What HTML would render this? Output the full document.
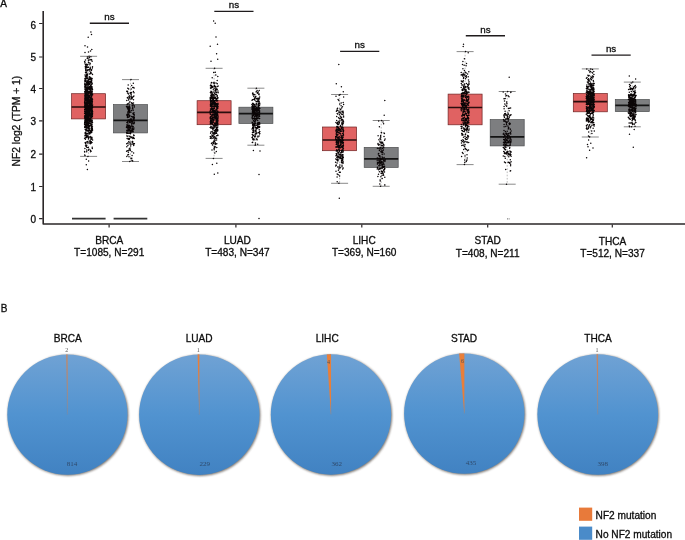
<!DOCTYPE html><html><head><meta charset="utf-8"><title>NF2 expression and mutation</title>
<style>html,body{margin:0;padding:0;background:#fff}svg{display:block}text{font-family:"Liberation Sans",sans-serif;fill:#0d0d0d;stroke:#0d0d0d;stroke-width:0.3px}.s{font-family:"Liberation Serif",serif;stroke:none}</style></head><body>
<svg width="685" height="540" viewBox="0 0 685 540">
<defs><linearGradient id="pg" x1="0" y1="0" x2="0" y2="1"><stop offset="0" stop-color="#70a2d4"/><stop offset="0.5" stop-color="#5193d0"/><stop offset="1" stop-color="#4182c2"/></linearGradient>
<linearGradient id="og" x1="0" y1="0" x2="0" y2="1"><stop offset="0" stop-color="#ec8440"/><stop offset="1" stop-color="#e0742f"/></linearGradient>
<filter id="sh" x="-10%" y="-10%" width="125%" height="125%"><feGaussianBlur stdDeviation="0.85"/></filter></defs>
<rect width="685" height="540" fill="#fff"/>
<text x="0.3" y="7.4" font-size="10">A</text>
<text x="0.8" y="311.8" font-size="10">B</text>
<text transform="translate(19.6,121.1) rotate(-90)" text-anchor="middle" font-size="10.3">NF2 log2 (TPM + 1)</text>
<g stroke="#333" stroke-width="1.8">
<line x1="72" y1="218.7" x2="105.6" y2="218.7"/><line x1="113.6" y1="218.7" x2="147.3" y2="218.7"/></g>
<line x1="88.6" y1="56.3" x2="88.6" y2="156.4" stroke="#777" stroke-width="0.5" stroke-dasharray="1.6 1.6"/>
<path d="M80.1 56.3h17M80.1 156.4h17" stroke="#585858" stroke-width="0.7" fill="none"/>
<rect x="71.6" y="93.7" width="34.0" height="25.2" fill="#e06262" stroke="#6e2323" stroke-width="0.7"/>
<line x1="71.6" y1="107.0" x2="105.6" y2="107.0" stroke="#2a0e0e" stroke-width="1.7"/>
<line x1="130.5" y1="79.6" x2="130.5" y2="161.5" stroke="#777" stroke-width="0.5" stroke-dasharray="1.6 1.6"/>
<path d="M122.0 79.6h17M122.0 161.5h17" stroke="#585858" stroke-width="0.7" fill="none"/>
<rect x="113.5" y="104.6" width="34.0" height="28.3" fill="#7d7e80" stroke="#4c4d4f" stroke-width="0.7"/>
<line x1="113.5" y1="120.3" x2="147.5" y2="120.3" stroke="#141414" stroke-width="1.7"/>
<line x1="214.1" y1="68.3" x2="214.1" y2="158.4" stroke="#777" stroke-width="0.5" stroke-dasharray="1.6 1.6"/>
<path d="M205.6 68.3h17M205.6 158.4h17" stroke="#585858" stroke-width="0.7" fill="none"/>
<rect x="197.1" y="100.7" width="34.0" height="24.0" fill="#e06262" stroke="#6e2323" stroke-width="0.7"/>
<line x1="197.1" y1="112.4" x2="231.1" y2="112.4" stroke="#2a0e0e" stroke-width="1.7"/>
<line x1="255.9" y1="88.2" x2="255.9" y2="145.2" stroke="#777" stroke-width="0.5" stroke-dasharray="1.6 1.6"/>
<path d="M247.4 88.2h17M247.4 145.2h17" stroke="#585858" stroke-width="0.7" fill="none"/>
<rect x="238.9" y="107.2" width="34.0" height="16.3" fill="#7d7e80" stroke="#4c4d4f" stroke-width="0.7"/>
<line x1="238.9" y1="113.7" x2="272.9" y2="113.7" stroke="#141414" stroke-width="1.7"/>
<line x1="339.6" y1="94.5" x2="339.6" y2="183.3" stroke="#777" stroke-width="0.5" stroke-dasharray="1.6 1.6"/>
<path d="M331.1 94.5h17M331.1 183.3h17" stroke="#585858" stroke-width="0.7" fill="none"/>
<rect x="322.6" y="127.0" width="34.0" height="23.7" fill="#e06262" stroke="#6e2323" stroke-width="0.7"/>
<line x1="322.6" y1="140.0" x2="356.6" y2="140.0" stroke="#2a0e0e" stroke-width="1.7"/>
<line x1="381.2" y1="120.5" x2="381.2" y2="186.3" stroke="#777" stroke-width="0.5" stroke-dasharray="1.6 1.6"/>
<path d="M372.7 120.5h17M372.7 186.3h17" stroke="#585858" stroke-width="0.7" fill="none"/>
<rect x="364.2" y="147.4" width="34.0" height="20.0" fill="#7d7e80" stroke="#4c4d4f" stroke-width="0.7"/>
<line x1="364.2" y1="158.9" x2="398.2" y2="158.9" stroke="#141414" stroke-width="1.7"/>
<line x1="465.1" y1="51.6" x2="465.1" y2="164.6" stroke="#777" stroke-width="0.5" stroke-dasharray="1.6 1.6"/>
<path d="M456.6 51.6h17M456.6 164.6h17" stroke="#585858" stroke-width="0.7" fill="none"/>
<rect x="448.1" y="94.1" width="34.0" height="30.7" fill="#e06262" stroke="#6e2323" stroke-width="0.7"/>
<line x1="448.1" y1="107.5" x2="482.1" y2="107.5" stroke="#2a0e0e" stroke-width="1.7"/>
<line x1="507.2" y1="91.5" x2="507.2" y2="184.2" stroke="#777" stroke-width="0.5" stroke-dasharray="1.6 1.6"/>
<path d="M498.7 91.5h17M498.7 184.2h17" stroke="#585858" stroke-width="0.7" fill="none"/>
<rect x="490.2" y="119.6" width="34.0" height="26.3" fill="#7d7e80" stroke="#4c4d4f" stroke-width="0.7"/>
<line x1="490.2" y1="136.8" x2="524.2" y2="136.8" stroke="#141414" stroke-width="1.7"/>
<line x1="590.3" y1="68.9" x2="590.3" y2="137.0" stroke="#777" stroke-width="0.5" stroke-dasharray="1.6 1.6"/>
<path d="M581.8 68.9h17M581.8 137.0h17" stroke="#585858" stroke-width="0.7" fill="none"/>
<rect x="573.3" y="93.5" width="34.0" height="18.3" fill="#e06262" stroke="#6e2323" stroke-width="0.7"/>
<line x1="573.3" y1="101.6" x2="607.3" y2="101.6" stroke="#2a0e0e" stroke-width="1.7"/>
<line x1="632.3" y1="82.1" x2="632.3" y2="126.8" stroke="#777" stroke-width="0.5" stroke-dasharray="1.6 1.6"/>
<path d="M623.8 82.1h17M623.8 126.8h17" stroke="#585858" stroke-width="0.7" fill="none"/>
<rect x="615.3" y="99.5" width="34.0" height="12.1" fill="#7d7e80" stroke="#4c4d4f" stroke-width="0.7"/>
<line x1="615.3" y1="105.4" x2="649.3" y2="105.4" stroke="#141414" stroke-width="1.7"/>
<path d="M85.8 115.0h0M85.2 99.5h0M87.5 105.3h0M88.7 137.1h0M88.1 142.0h0M85.3 135.0h0M91.2 110.3h0M86.4 128.2h0M92.2 100.7h0M87.8 103.2h0M85.0 62.3h0M86.9 85.2h0M85.5 126.3h0M91.1 115.7h0M89.3 123.3h0M87.6 100.1h0M85.1 104.7h0M86.2 136.8h0M88.0 97.9h0M89.3 115.4h0M87.0 109.0h0M90.2 90.7h0M89.2 119.2h0M91.6 105.8h0M86.9 95.0h0M85.5 60.1h0M90.7 110.6h0M88.5 125.6h0M89.9 141.5h0M89.2 92.8h0M87.1 83.4h0M89.4 97.0h0M88.2 103.1h0M92.2 87.0h0M89.9 108.1h0M90.2 136.6h0M92.5 99.7h0M86.9 88.5h0M89.9 112.0h0M88.3 147.6h0M85.5 124.3h0M90.7 136.9h0M86.6 127.6h0M91.6 111.8h0M88.2 133.3h0M91.7 104.6h0M91.5 88.7h0M87.9 117.3h0M91.7 113.3h0M85.8 69.4h0M86.5 123.7h0M88.5 119.9h0M86.7 102.6h0M87.6 110.5h0M92.2 103.8h0M88.7 97.3h0M90.0 101.2h0M91.8 137.9h0M91.6 91.7h0M87.7 90.4h0M85.4 111.4h0M85.1 100.3h0M86.3 135.4h0M87.3 124.8h0M84.6 138.2h0M85.4 125.7h0M84.8 113.1h0M89.5 83.6h0M86.6 125.9h0M87.5 113.8h0M91.4 128.3h0M88.5 108.5h0M85.4 132.6h0M86.7 114.1h0M85.9 87.9h0M92.2 147.3h0M85.8 105.6h0M84.8 104.9h0M92.4 105.6h0M90.2 84.7h0M87.5 118.3h0M90.8 124.4h0M90.8 105.4h0M86.4 114.7h0M92.5 89.4h0M91.0 85.8h0M90.5 88.8h0M88.7 120.3h0M84.8 113.4h0M86.8 145.3h0M90.1 118.4h0M88.2 69.7h0M92.5 74.4h0M87.5 70.1h0M86.4 120.7h0M86.2 122.2h0M91.8 100.9h0M88.4 86.9h0M91.0 99.4h0M89.9 132.7h0M90.9 79.1h0M88.4 93.7h0M90.9 123.5h0M91.0 114.5h0M87.8 64.4h0M92.2 111.3h0M86.0 95.3h0M85.8 127.8h0M91.1 79.8h0M91.2 126.1h0M89.9 60.0h0M89.0 113.7h0M84.7 127.5h0M89.8 64.7h0M92.1 105.7h0M91.6 109.9h0M86.3 88.2h0M86.9 118.8h0M89.3 119.4h0M88.0 118.4h0M91.9 127.5h0M88.3 113.5h0M91.8 102.9h0M91.9 110.5h0M88.9 106.9h0M84.7 105.9h0M86.1 109.6h0M86.0 90.3h0M90.4 108.1h0M87.2 104.3h0M89.0 106.1h0M85.4 91.4h0M86.6 104.1h0M90.8 117.4h0M89.1 106.6h0M91.9 93.1h0M89.5 109.5h0M88.7 106.7h0M88.2 97.2h0M88.4 105.4h0M90.2 73.5h0M92.1 83.3h0M89.1 118.3h0M91.3 73.1h0M85.6 126.9h0M85.2 109.5h0M85.2 119.4h0M90.9 98.5h0M85.8 80.8h0M89.9 95.8h0M91.7 126.4h0M86.4 66.1h0M87.8 70.8h0M92.5 107.6h0M85.9 87.6h0M88.7 110.0h0M86.2 114.2h0M90.4 115.2h0M89.0 149.2h0M84.7 109.6h0M89.6 114.6h0M85.1 106.4h0M90.9 56.7h0M85.4 64.4h0M84.9 118.0h0M86.8 91.8h0M88.0 127.6h0M91.2 78.8h0M85.8 118.4h0M89.2 77.6h0M85.3 96.7h0M90.1 137.2h0M85.2 110.3h0M89.7 74.1h0M85.3 90.1h0M85.1 85.4h0M88.2 84.8h0M89.0 114.2h0M86.7 76.4h0M88.8 127.6h0M85.5 119.6h0M85.0 124.8h0M87.1 121.9h0M90.7 115.9h0M88.6 116.7h0M87.4 123.6h0M86.6 149.9h0M90.5 151.7h0M86.1 104.5h0M92.1 108.1h0M91.2 130.0h0M88.6 110.0h0M87.7 87.4h0M90.1 106.7h0M87.3 58.6h0M90.3 87.6h0M87.8 100.3h0M85.0 113.8h0M85.2 127.6h0M86.6 94.3h0M85.3 124.7h0M91.6 86.8h0M86.9 98.4h0M86.9 119.3h0M85.9 108.8h0M86.7 109.4h0M92.4 68.1h0M86.6 104.7h0M87.1 66.8h0M84.6 113.4h0M88.4 112.2h0M86.2 106.9h0M84.6 106.8h0M85.3 118.1h0M84.9 111.4h0M87.0 147.6h0M89.3 119.9h0M90.6 105.6h0M90.3 99.1h0M87.7 83.0h0M92.5 114.9h0M90.4 125.8h0M85.0 99.9h0M91.7 87.4h0M90.5 100.7h0M85.7 89.3h0M88.6 105.8h0M91.0 87.4h0M89.3 88.1h0M90.1 81.4h0M86.4 97.1h0M85.7 144.1h0M85.4 113.2h0M89.1 87.3h0M89.6 100.7h0M88.5 97.8h0M90.6 90.4h0M88.9 106.9h0M85.1 99.0h0M86.6 94.6h0M86.7 134.2h0M86.2 95.0h0M92.4 94.4h0M87.7 107.3h0M90.1 107.9h0M89.5 92.6h0M85.2 99.9h0M86.6 126.0h0M87.0 94.1h0M84.7 103.7h0M86.8 136.6h0M90.1 98.3h0M86.9 98.1h0M88.3 106.2h0M85.5 108.5h0M86.2 81.3h0M92.1 61.3h0M88.3 150.3h0M92.3 88.7h0M86.7 109.2h0M92.2 121.3h0M89.3 121.3h0M88.8 126.5h0M85.7 70.8h0M88.7 88.7h0M90.2 82.1h0M91.8 120.0h0M84.8 107.6h0M88.2 107.4h0M85.7 116.1h0M87.1 114.0h0M84.6 86.9h0M91.3 93.7h0M92.0 128.5h0M91.8 96.0h0M87.6 116.7h0M92.6 111.7h0M87.5 102.6h0M86.8 110.1h0M85.4 139.2h0M86.9 87.4h0M86.6 74.7h0M88.7 118.0h0M87.6 122.7h0M91.7 69.8h0M89.6 89.3h0M92.1 78.5h0M90.4 104.6h0M90.5 138.9h0M90.6 109.1h0M86.9 99.8h0M92.0 139.0h0M88.4 127.8h0M87.0 114.0h0M92.4 94.4h0M89.8 118.3h0M89.1 116.1h0M85.9 111.6h0M86.3 124.8h0M88.6 79.6h0M91.9 120.7h0M85.7 109.2h0M85.3 122.5h0M85.3 114.1h0M86.7 119.5h0M91.7 103.6h0M87.9 93.7h0M88.8 110.8h0M87.3 112.4h0M86.8 136.3h0M85.6 66.0h0M89.6 106.8h0M86.3 84.8h0M86.6 117.7h0M88.2 111.4h0M91.4 70.4h0M84.8 83.7h0M90.3 143.7h0M88.4 81.0h0M84.6 102.7h0M92.0 111.8h0M91.4 88.2h0M86.6 64.2h0M85.8 129.7h0M90.1 105.9h0M90.4 73.5h0M90.7 99.7h0M89.0 108.9h0M90.9 141.4h0M92.0 119.9h0M87.0 99.8h0M86.6 127.8h0M90.2 100.2h0M85.2 129.4h0M89.3 105.8h0M86.4 111.9h0M84.7 102.0h0M88.3 116.1h0M89.8 69.0h0M88.4 82.5h0M86.6 119.8h0M90.2 68.5h0M84.8 115.8h0M90.0 107.1h0M86.7 110.5h0M92.0 98.6h0M84.9 120.3h0M88.0 114.3h0M86.2 97.7h0M90.5 90.5h0M86.2 106.8h0M87.1 65.2h0M86.4 88.7h0M90.7 120.6h0M92.2 116.4h0M86.1 107.2h0M87.9 120.5h0M92.2 98.7h0M87.7 126.1h0M92.4 121.1h0M85.0 126.5h0M87.7 136.7h0M91.7 80.7h0M92.6 94.8h0M87.2 75.5h0M92.1 123.0h0M84.9 94.0h0M87.6 98.7h0M87.3 112.6h0M84.6 124.2h0M87.4 117.2h0M85.6 70.0h0M86.3 67.3h0M91.2 113.4h0M88.1 88.5h0M88.4 139.0h0M92.0 112.6h0M87.5 122.5h0M84.8 80.9h0M91.1 110.9h0M84.9 92.6h0M85.1 142.8h0M86.7 77.5h0M91.8 93.9h0M86.8 114.2h0M89.5 69.4h0M90.3 118.2h0M86.8 115.3h0M91.9 93.3h0M92.1 100.4h0M86.5 146.8h0M92.3 108.1h0M87.7 70.4h0M88.0 118.8h0M92.0 107.3h0M91.0 123.2h0M91.2 94.4h0M89.5 92.2h0M87.2 114.8h0M90.9 113.1h0M86.2 133.5h0M86.6 93.5h0M84.9 135.8h0M87.2 104.4h0M91.7 60.0h0M85.3 118.0h0M88.6 131.2h0M88.2 96.2h0M87.9 119.8h0M90.0 101.1h0M91.4 93.8h0M85.6 98.7h0M87.0 86.9h0M87.6 103.7h0M86.2 94.5h0M86.6 119.0h0M91.7 125.5h0M87.2 103.2h0M92.5 111.6h0M86.5 106.6h0M89.8 89.6h0M88.4 130.5h0M91.3 88.7h0M84.9 78.4h0M85.6 116.5h0M92.4 122.7h0M92.0 102.9h0M91.5 112.7h0M86.7 109.2h0M92.2 91.9h0M89.4 130.1h0M86.3 101.1h0M85.7 112.8h0M86.6 121.7h0M89.8 102.1h0M84.7 121.8h0M90.0 114.8h0M87.1 123.0h0M91.0 121.8h0M85.1 104.7h0M87.8 130.6h0M89.7 104.6h0M85.9 131.9h0M87.9 97.0h0M87.1 117.0h0M87.1 70.6h0M87.5 103.8h0M91.5 110.7h0M86.2 113.0h0M86.2 95.1h0M88.0 80.2h0M87.8 88.6h0M88.3 82.6h0M84.7 124.7h0M89.7 104.5h0M85.3 79.1h0M87.6 101.0h0M85.8 106.8h0M88.8 117.0h0M85.5 76.6h0M91.0 107.4h0M86.2 66.3h0M92.1 127.9h0M88.5 62.6h0M92.0 138.1h0M91.8 111.9h0M91.2 101.1h0M90.9 124.9h0M87.8 120.6h0M91.2 86.4h0M86.3 123.2h0M88.7 111.4h0M85.6 112.1h0M90.4 119.1h0M84.9 80.8h0M90.7 104.0h0M91.3 141.8h0M89.4 128.8h0M89.6 104.6h0M88.0 115.8h0M88.0 103.0h0M88.2 99.0h0M84.8 109.7h0M88.5 101.1h0M90.7 119.8h0M88.3 91.7h0M88.4 123.4h0M85.6 129.9h0M85.3 110.0h0M88.7 109.5h0M89.7 141.1h0M90.5 133.1h0M88.7 91.9h0M88.6 137.9h0M92.2 112.4h0M91.5 127.0h0M91.1 94.8h0M92.5 122.4h0M92.3 107.4h0M85.9 78.1h0M92.0 91.1h0M87.4 135.7h0M85.9 93.3h0M86.8 80.9h0M85.7 89.0h0M92.0 106.9h0M86.7 121.4h0M87.2 106.7h0M86.1 142.2h0M92.1 124.8h0M91.8 97.9h0M90.9 124.2h0M88.8 129.1h0M87.5 100.2h0M89.0 83.7h0M91.7 103.1h0M92.5 130.2h0M87.8 100.6h0M86.7 90.4h0M87.5 103.2h0M88.1 92.8h0M90.5 123.6h0M91.2 139.2h0M89.7 118.7h0M89.3 57.5h0M87.1 98.8h0M85.8 143.2h0M88.1 101.3h0M91.8 106.4h0M86.4 127.4h0M84.8 99.3h0M85.5 113.5h0M86.4 113.4h0M89.3 102.9h0M89.6 121.7h0M85.7 108.1h0M86.5 74.5h0M85.4 125.8h0M91.6 100.1h0M87.8 91.5h0M84.7 118.1h0M89.1 99.8h0M89.8 113.7h0M92.1 109.4h0M86.6 94.8h0M85.0 80.0h0M87.8 105.5h0M85.1 119.6h0M84.7 91.8h0M92.1 104.5h0M86.2 126.4h0M88.7 101.7h0M91.1 100.0h0M87.1 123.8h0M85.0 116.2h0M90.9 81.8h0M84.7 95.9h0M90.6 86.6h0M90.5 108.5h0M86.4 109.1h0M86.5 130.1h0M87.3 141.6h0M90.2 93.7h0M90.3 86.5h0M89.0 118.0h0M90.9 109.8h0M86.7 105.9h0M92.3 99.9h0M91.6 120.9h0M86.7 151.8h0M90.6 119.7h0M90.6 72.7h0M91.6 114.8h0M86.5 114.7h0M89.6 79.4h0M89.9 97.2h0M88.4 60.8h0M90.2 87.0h0M88.1 85.3h0M89.2 95.3h0M86.3 115.8h0M85.2 100.9h0M85.8 78.9h0M85.5 145.7h0M87.4 76.0h0M84.8 126.5h0M90.1 140.8h0M90.2 100.4h0M85.1 94.6h0M87.5 102.6h0M91.2 88.9h0M85.1 81.6h0M91.9 84.3h0M85.5 72.8h0M85.5 121.6h0M91.4 143.0h0M89.7 89.3h0M89.7 88.3h0M85.4 116.8h0M90.7 131.0h0M87.2 121.7h0M84.8 110.3h0M86.9 118.5h0M87.5 95.8h0M92.3 115.1h0M91.4 106.8h0M84.8 101.2h0M88.1 110.8h0M87.4 92.2h0M88.9 96.5h0M91.5 120.9h0M91.2 131.9h0M84.6 124.1h0M90.7 121.9h0M84.6 61.4h0M88.5 107.4h0M86.1 90.5h0M87.4 107.2h0M86.7 87.7h0M86.9 72.9h0M90.2 121.0h0M85.5 107.1h0M85.2 100.2h0M90.2 91.1h0M89.6 91.2h0M87.8 113.4h0M91.7 111.6h0M91.7 132.5h0M86.2 146.4h0M91.8 118.1h0M87.6 106.9h0M86.5 82.5h0M88.9 108.7h0M90.6 93.4h0M87.4 99.7h0M85.8 114.8h0M89.9 86.7h0M86.0 94.2h0M90.8 109.7h0M85.6 103.1h0M91.7 108.6h0M86.1 119.6h0M90.2 116.1h0M85.8 86.6h0M86.6 125.3h0M88.8 114.8h0M87.2 124.9h0M92.4 122.7h0M85.4 95.1h0M85.4 67.9h0M92.5 112.1h0M90.5 90.6h0M86.2 109.8h0M85.5 100.1h0M87.7 121.6h0M87.8 143.1h0M90.1 90.9h0M89.7 107.0h0M85.7 108.6h0M87.8 101.9h0M91.9 94.3h0M89.2 110.0h0M88.0 93.8h0M90.4 120.2h0M90.8 82.9h0M91.4 96.7h0M89.7 97.9h0M87.1 109.0h0M85.4 100.7h0M90.9 110.5h0M89.6 96.0h0M88.0 118.9h0M89.6 108.9h0M90.0 111.0h0M86.1 75.7h0M90.8 99.3h0M88.5 111.9h0M84.9 63.1h0M85.9 104.9h0M92.1 91.6h0M85.4 106.1h0M88.9 103.4h0M88.7 95.7h0M91.2 100.1h0M87.9 106.0h0M86.3 72.0h0M87.7 97.6h0M85.6 92.9h0M87.4 57.1h0M86.8 137.4h0M84.7 111.4h0M88.0 110.6h0M87.4 96.9h0M86.4 118.0h0M92.1 94.3h0M86.4 105.7h0M87.7 90.1h0M85.6 121.2h0M91.1 91.9h0M88.4 100.3h0M86.4 104.0h0M87.4 67.4h0M91.1 100.1h0M88.3 89.0h0M89.0 116.5h0M91.3 128.0h0M91.4 113.5h0M87.6 117.9h0M88.0 118.7h0M84.6 123.0h0M86.8 95.5h0M87.0 119.2h0M88.0 107.9h0M89.9 100.2h0M92.0 113.1h0M85.1 85.6h0M91.8 88.0h0M85.7 91.4h0M89.7 87.7h0M84.7 152.0h0M89.8 71.0h0M85.4 118.9h0M86.5 126.4h0M87.4 92.0h0M91.8 125.5h0M85.9 90.9h0M89.5 81.6h0M89.9 91.6h0M90.9 81.2h0M86.2 87.1h0M88.8 97.2h0M88.1 94.2h0M89.0 82.6h0M86.5 118.1h0M88.5 126.7h0M88.3 137.0h0M88.5 126.2h0M88.9 107.1h0M84.7 84.8h0M88.3 86.9h0M89.9 104.0h0M87.6 86.9h0M92.3 110.5h0M89.7 134.1h0M84.8 100.2h0M90.1 101.6h0M87.2 75.5h0M88.7 59.1h0M91.8 107.7h0M90.3 143.1h0M87.3 100.8h0M87.5 84.9h0M88.8 108.1h0M86.3 92.4h0M88.0 109.8h0M91.2 104.4h0M91.2 116.5h0M88.6 111.2h0M88.7 117.7h0M89.8 62.9h0M87.2 90.8h0M87.0 115.3h0M89.7 102.8h0M84.9 91.4h0M91.7 95.4h0M85.0 104.8h0M84.6 116.1h0M92.0 122.7h0M89.9 101.7h0M91.9 91.1h0M89.5 101.5h0M90.2 100.7h0M90.0 102.3h0M89.9 121.2h0M90.7 108.8h0M86.1 130.6h0M90.8 142.2h0M89.8 78.4h0M91.2 112.8h0M89.1 91.2h0M87.0 118.4h0M87.1 110.4h0M89.7 110.0h0M85.0 75.0h0M84.9 103.7h0M91.1 128.7h0M91.9 103.3h0M84.7 109.3h0M89.3 112.0h0M92.4 74.3h0M87.9 108.1h0M89.8 130.5h0M85.8 121.2h0M84.6 151.6h0M85.6 97.7h0M85.3 66.5h0M85.6 84.1h0M90.4 150.2h0M90.5 119.3h0M85.0 122.9h0M90.3 92.1h0M90.4 85.5h0M89.6 132.8h0M88.3 96.2h0M86.6 75.3h0M90.3 67.3h0M84.7 154.9h0M91.1 99.5h0M87.1 133.4h0M85.9 95.0h0M88.5 85.0h0M87.5 136.8h0M88.1 103.3h0M85.8 98.1h0M87.5 90.4h0M89.6 99.8h0M87.7 110.6h0M92.2 91.3h0M89.1 91.4h0M85.1 116.6h0M90.2 63.4h0M87.3 88.1h0M92.4 101.8h0M89.4 87.7h0M88.0 115.7h0M87.6 82.0h0M89.4 97.6h0M91.1 81.0h0M84.6 117.0h0M88.0 118.1h0M91.1 102.8h0M84.9 82.0h0M91.1 87.6h0M89.2 84.3h0M91.4 117.6h0M90.1 89.7h0M87.4 78.5h0M89.0 132.7h0M86.2 90.4h0M92.1 93.7h0M89.5 119.8h0M88.3 98.0h0M86.6 121.6h0M90.9 93.6h0M85.3 108.7h0M90.8 89.7h0M89.2 119.9h0M91.7 80.9h0M88.4 105.9h0M86.1 102.6h0M86.0 122.5h0M87.5 96.7h0M87.8 103.9h0M85.8 106.2h0M92.6 140.1h0M85.4 112.6h0M90.9 100.4h0M89.4 125.2h0M88.8 113.9h0M84.9 148.6h0M88.5 84.4h0M86.7 103.7h0M88.0 91.8h0M90.7 72.3h0M92.3 88.8h0M84.9 118.7h0M86.0 121.9h0M85.0 132.9h0M91.6 104.2h0M92.2 108.8h0M85.1 79.1h0M87.8 102.2h0M92.3 128.6h0M89.1 118.5h0M92.3 100.0h0M87.7 98.5h0M85.9 109.2h0M92.5 66.7h0M84.9 120.6h0M87.4 118.6h0M91.8 80.1h0M85.0 87.2h0M90.3 91.2h0M92.5 99.7h0M85.8 137.6h0M92.1 93.4h0M87.0 98.1h0M90.7 102.5h0M87.2 130.1h0M85.6 118.5h0M85.9 107.8h0M85.7 119.6h0M84.7 98.0h0M86.2 95.7h0M92.0 142.5h0M92.1 120.7h0M91.7 84.4h0M88.2 126.7h0M92.0 131.1h0M89.6 86.8h0M87.3 109.1h0M88.4 88.4h0M85.7 100.7h0M85.1 120.6h0M89.0 96.0h0M91.6 126.2h0M87.9 118.0h0M86.8 125.3h0M87.3 87.0h0M88.5 124.3h0M91.8 115.3h0M92.4 129.2h0M91.8 137.3h0M86.3 98.5h0M86.9 108.0h0M86.2 118.4h0M92.5 113.0h0M85.4 76.6h0M91.8 116.7h0M90.4 137.2h0M92.4 116.5h0M91.1 151.3h0M85.7 114.1h0M88.8 87.6h0M88.1 123.0h0M86.3 78.8h0M85.7 103.5h0M90.8 123.4h0M86.2 96.1h0M85.3 133.5h0M88.6 101.7h0M86.2 117.5h0M90.3 101.5h0M89.3 89.3h0M85.1 121.8h0M87.9 94.8h0M85.0 95.5h0M87.3 89.4h0M91.5 86.8h0M84.7 107.3h0M88.4 79.0h0M86.7 83.8h0M91.3 123.0h0M85.9 112.9h0M89.4 112.7h0M88.2 106.0h0M85.6 106.2h0M91.1 95.9h0M87.2 84.5h0M87.7 96.1h0M85.1 93.6h0M92.2 83.7h0M88.7 107.2h0M88.9 105.5h0M92.3 148.5h0M86.1 120.5h0M86.6 130.4h0M84.8 88.9h0M90.2 131.2h0M84.7 122.3h0M89.2 102.1h0M90.2 105.9h0M91.6 130.4h0M85.0 95.8h0M88.5 128.2h0M86.8 107.0h0M87.8 128.3h0M89.3 126.9h0M85.8 85.0h0M90.6 103.5h0M91.2 124.6h0M87.7 74.3h0M91.3 110.5h0M87.8 105.8h0M90.8 73.5h0M86.5 114.2h0M88.1 114.4h0M91.0 59.4h0M91.1 78.6h0M85.0 86.3h0M92.3 106.2h0M86.6 74.9h0M89.7 110.4h0M88.8 113.0h0M88.1 135.1h0M84.8 106.8h0M92.4 126.7h0M92.1 91.9h0M91.1 100.4h0M91.7 82.4h0M89.7 143.0h0M90.0 118.0h0M88.9 117.6h0M89.6 76.8h0M88.8 118.9h0M92.2 109.9h0M87.0 116.8h0M85.6 99.6h0M92.2 102.4h0M86.7 106.3h0M88.9 108.5h0M85.6 125.9h0M86.9 127.4h0M86.9 111.1h0M85.3 119.3h0M91.3 104.8h0M89.2 101.6h0M86.2 99.5h0M88.3 96.2h0M89.5 104.7h0M87.1 108.3h0M86.4 119.3h0M87.7 106.4h0M84.7 102.8h0M91.5 113.6h0M89.1 119.6h0M86.9 107.4h0M90.8 116.4h0M85.1 125.1h0M88.1 83.9h0M87.7 136.3h0M90.5 109.6h0M86.4 129.7h0M90.5 68.9h0M87.3 125.4h0M90.0 113.6h0M91.4 101.3h0M88.7 88.6h0M90.5 94.4h0M88.4 93.1h0M90.3 91.3h0M85.6 78.3h0M84.6 83.9h0M89.3 92.7h0M92.3 107.1h0M87.9 103.5h0M91.6 91.4h0M87.6 101.7h0M88.3 109.1h0M86.9 95.4h0M89.0 111.8h0M87.2 112.1h0M91.4 91.2h0M88.2 107.0h0M87.0 123.1h0M89.2 126.2h0M85.3 103.0h0M87.2 77.5h0M91.3 86.6h0M86.2 69.0h0M91.9 110.2h0M85.0 155.6h0M88.6 103.8h0M90.8 77.5h0M92.6 105.1h0M88.7 106.2h0M87.7 97.6h0M89.4 113.3h0M92.2 113.6h0M88.8 98.1h0M87.6 130.9h0M89.1 111.3h0M91.6 103.4h0M88.5 67.2h0M89.6 109.6h0M88.8 114.0h0M86.0 89.0h0M92.4 115.3h0M88.7 88.2h0M91.8 129.5h0M91.2 97.3h0M88.0 82.0h0M86.9 125.2h0M88.6 106.4h0M86.1 122.8h0M89.4 100.6h0M92.5 113.5h0M84.9 100.2h0M90.9 110.9h0M90.1 115.8h0M91.3 115.9h0M89.9 102.8h0M88.6 122.2h0M86.7 104.4h0M88.9 99.7h0M89.1 56.3h0M87.9 156.4h0M90.9 31.9h0M91.5 34.5h0M88.2 37.2h0M85.0 45.8h0M87.5 47.0h0M91.8 49.5h0M90.5 51.0h0M85.0 52.5h0M88.5 52.0h0M86.3 159.3h0M88.6 161.0h0M86.3 164.7h0M87.4 169.5h0M129.8 116.0h0M127.8 142.9h0M127.4 103.9h0M127.9 145.4h0M133.1 119.0h0M133.0 113.7h0M126.6 151.3h0M129.1 103.0h0M129.3 107.1h0M128.6 138.5h0M133.7 145.5h0M129.3 115.6h0M129.6 122.6h0M133.6 152.9h0M134.2 115.5h0M131.5 123.1h0M126.9 132.9h0M133.3 83.2h0M133.7 129.2h0M128.9 99.1h0M134.2 114.4h0M134.1 120.5h0M129.6 133.3h0M128.3 106.9h0M133.5 129.5h0M132.8 121.0h0M127.9 133.3h0M128.0 127.0h0M131.0 130.5h0M130.8 143.7h0M129.7 125.6h0M127.5 150.7h0M129.3 98.1h0M128.0 133.2h0M128.4 130.9h0M131.8 158.2h0M127.7 127.8h0M127.2 107.8h0M133.2 131.7h0M130.0 142.3h0M132.9 97.0h0M129.3 139.4h0M129.5 106.6h0M134.1 135.6h0M128.3 120.0h0M127.5 122.5h0M128.6 107.8h0M131.2 89.0h0M128.5 126.5h0M128.2 114.0h0M127.5 92.9h0M130.8 119.6h0M132.7 131.7h0M131.8 125.7h0M129.0 116.4h0M127.2 125.4h0M133.3 137.9h0M131.8 128.9h0M131.0 144.4h0M130.5 126.8h0M127.0 130.2h0M128.3 129.4h0M132.2 142.5h0M129.7 131.0h0M132.7 87.5h0M133.4 91.5h0M128.7 141.8h0M131.9 160.2h0M129.3 110.6h0M131.8 124.3h0M128.5 108.3h0M129.3 95.9h0M128.0 112.8h0M133.8 143.6h0M132.2 105.8h0M126.8 156.5h0M128.1 139.1h0M129.5 129.8h0M129.0 156.8h0M127.9 112.2h0M131.1 96.7h0M128.5 107.1h0M132.0 123.3h0M126.5 127.4h0M132.7 97.2h0M126.8 130.8h0M131.4 95.1h0M128.5 154.6h0M132.8 144.1h0M133.8 135.5h0M127.2 104.7h0M129.6 108.6h0M133.1 104.8h0M127.2 131.1h0M133.9 123.8h0M132.4 108.8h0M131.5 97.7h0M126.9 122.5h0M129.9 108.3h0M133.9 119.6h0M132.6 142.3h0M132.1 155.6h0M128.6 100.0h0M134.3 117.6h0M130.9 112.2h0M127.0 132.9h0M129.8 127.0h0M129.0 136.1h0M132.2 141.4h0M128.4 110.2h0M130.6 133.4h0M134.0 122.8h0M128.9 127.3h0M127.6 91.2h0M129.2 116.7h0M130.9 99.1h0M127.9 103.8h0M131.3 110.4h0M132.6 122.1h0M127.4 97.6h0M129.4 130.6h0M127.0 135.7h0M128.1 131.1h0M130.1 108.1h0M129.1 143.9h0M129.4 121.7h0M127.1 138.6h0M127.2 104.6h0M134.3 107.0h0M127.4 116.6h0M130.0 120.8h0M130.8 136.9h0M131.7 85.6h0M134.0 112.8h0M128.5 111.3h0M127.6 133.1h0M132.7 160.9h0M128.9 96.7h0M131.6 137.2h0M133.9 96.0h0M132.8 138.6h0M132.4 97.6h0M128.0 128.6h0M129.1 98.1h0M130.9 126.5h0M133.2 126.4h0M126.8 133.5h0M131.5 116.5h0M132.1 98.7h0M134.1 88.1h0M130.5 120.6h0M128.9 139.5h0M127.1 115.6h0M127.8 109.0h0M134.3 122.9h0M126.8 146.8h0M128.0 123.1h0M126.5 106.6h0M133.3 96.6h0M129.9 101.7h0M131.8 130.9h0M129.9 119.5h0M130.0 128.0h0M133.1 110.4h0M127.8 88.3h0M130.0 130.2h0M129.3 116.7h0M127.2 136.5h0M130.2 128.7h0M133.4 87.5h0M133.0 113.3h0M131.9 151.8h0M128.9 114.0h0M134.1 116.2h0M131.7 121.2h0M129.2 130.0h0M126.7 91.2h0M131.9 137.0h0M127.2 122.7h0M129.5 110.8h0M129.8 115.6h0M131.0 118.6h0M127.4 125.1h0M133.6 137.6h0M127.4 117.5h0M128.5 94.1h0M130.7 146.1h0M130.4 132.8h0M128.3 117.2h0M127.4 116.1h0M131.2 119.5h0M129.8 148.2h0M130.0 149.3h0M130.9 94.0h0M132.6 107.2h0M134.4 143.7h0M127.3 106.7h0M129.6 97.7h0M134.2 138.4h0M132.7 116.7h0M132.7 141.4h0M128.4 152.3h0M126.6 126.3h0M128.2 114.8h0M132.2 130.0h0M133.6 123.7h0M133.5 113.2h0M133.8 116.7h0M127.8 93.1h0M129.2 105.0h0M131.9 103.6h0M127.5 98.1h0M132.4 126.2h0M126.8 106.7h0M127.3 114.3h0M132.9 117.5h0M133.9 143.9h0M128.5 109.9h0M130.1 136.7h0M131.2 96.8h0M126.7 143.8h0M132.9 144.2h0M130.9 137.3h0M132.0 130.6h0M127.7 125.9h0M130.8 92.5h0M133.0 108.9h0M127.7 127.8h0M133.5 120.2h0M126.8 100.5h0M133.0 137.5h0M129.6 109.6h0M127.8 121.4h0M129.6 96.1h0M131.4 92.8h0M129.1 148.9h0M133.7 135.0h0M126.8 115.1h0M129.4 138.5h0M131.1 121.8h0M129.3 125.5h0M129.2 115.7h0M134.4 122.2h0M127.7 155.1h0M128.7 110.1h0M130.5 131.5h0M131.1 132.2h0M134.2 118.7h0M131.0 158.5h0M133.5 103.0h0M131.6 102.7h0M129.4 112.4h0M132.9 131.0h0M134.0 92.8h0M128.9 109.5h0M132.4 103.6h0M131.6 119.8h0M130.9 127.4h0M127.0 124.7h0M129.1 128.0h0M129.4 121.1h0M128.4 133.3h0M127.6 127.4h0M130.1 93.1h0M131.0 122.8h0M127.9 129.9h0M128.9 150.6h0M132.3 129.5h0M134.0 117.4h0M133.9 127.9h0M127.1 115.5h0M131.1 137.8h0M132.7 127.0h0M133.4 123.6h0M130.4 150.3h0M128.7 89.1h0M126.7 132.4h0M128.6 138.9h0M128.2 107.9h0M128.1 125.0h0M133.4 114.3h0M128.1 111.6h0M134.2 105.8h0M127.1 114.5h0M133.5 99.7h0M127.6 127.8h0M130.8 137.0h0M131.6 92.5h0M128.2 84.9h0M132.5 128.6h0M129.7 111.5h0M131.0 79.6h0M129.8 161.5h0M212.8 104.4h0M213.4 143.6h0M215.1 146.4h0M214.1 120.1h0M212.2 108.2h0M210.2 114.0h0M214.6 85.7h0M215.0 143.9h0M212.7 102.1h0M211.3 137.8h0M216.2 132.4h0M216.6 138.3h0M214.4 115.9h0M214.5 108.6h0M214.9 105.5h0M216.0 120.3h0M215.8 124.2h0M216.3 99.9h0M216.3 121.4h0M213.7 72.5h0M214.3 123.1h0M211.2 83.0h0M215.3 113.5h0M213.0 99.3h0M216.2 126.0h0M210.3 138.3h0M210.6 133.2h0M214.5 112.3h0M217.6 129.2h0M211.3 118.6h0M216.0 129.5h0M211.4 86.2h0M216.3 151.5h0M218.0 125.1h0M215.2 112.4h0M216.5 119.6h0M212.7 114.2h0M211.0 88.6h0M210.6 101.6h0M213.3 106.0h0M210.6 92.7h0M213.4 109.7h0M217.7 86.6h0M211.9 106.9h0M212.2 124.6h0M212.0 115.4h0M216.2 127.7h0M212.5 106.2h0M214.7 126.8h0M217.0 131.2h0M212.2 92.3h0M216.7 100.6h0M212.8 122.8h0M217.2 113.0h0M215.6 130.8h0M213.7 108.2h0M217.2 109.0h0M217.2 127.2h0M216.3 118.8h0M211.6 92.8h0M218.1 92.7h0M210.3 122.0h0M217.9 135.6h0M211.3 87.6h0M210.9 101.5h0M215.6 130.2h0M212.8 138.2h0M215.8 86.7h0M217.9 91.0h0M212.0 150.1h0M215.6 98.2h0M214.1 148.5h0M213.5 125.8h0M210.3 136.4h0M217.1 121.0h0M214.0 134.6h0M213.5 133.1h0M215.6 129.4h0M216.0 132.0h0M211.0 112.4h0M214.1 119.1h0M212.9 86.6h0M217.8 126.9h0M216.0 90.9h0M211.5 123.4h0M210.7 123.8h0M214.2 147.0h0M214.6 116.6h0M210.2 118.7h0M215.3 104.0h0M214.5 110.5h0M218.0 103.9h0M215.8 91.8h0M212.6 117.0h0M217.9 116.0h0M213.2 117.5h0M211.2 116.5h0M217.5 107.7h0M215.0 124.4h0M212.0 118.0h0M211.0 128.0h0M216.4 94.5h0M210.5 88.0h0M212.7 103.7h0M214.5 106.0h0M217.9 121.1h0M216.9 100.9h0M214.8 112.0h0M215.1 125.6h0M213.1 101.1h0M213.2 102.8h0M215.0 111.3h0M212.7 104.5h0M214.4 106.8h0M215.0 126.3h0M217.4 123.8h0M215.9 113.6h0M213.9 111.5h0M211.2 126.5h0M214.3 85.3h0M214.3 111.4h0M212.0 96.7h0M216.7 129.9h0M215.2 114.2h0M217.3 95.7h0M210.4 92.4h0M216.8 117.8h0M211.1 96.4h0M212.1 131.5h0M213.0 136.6h0M214.3 97.4h0M210.8 114.5h0M218.1 117.1h0M213.7 103.6h0M216.5 113.4h0M211.3 100.2h0M213.0 104.4h0M212.0 111.5h0M212.8 118.3h0M210.2 117.8h0M214.7 127.8h0M211.5 143.6h0M212.3 102.4h0M212.0 120.6h0M210.8 95.2h0M217.0 106.5h0M213.5 127.8h0M215.0 98.2h0M210.5 118.3h0M213.0 115.0h0M212.5 102.7h0M215.3 116.6h0M212.9 96.9h0M214.7 117.6h0M211.6 85.7h0M215.8 75.0h0M215.4 118.2h0M210.7 120.3h0M213.1 100.4h0M214.1 111.3h0M216.2 88.9h0M214.8 152.9h0M213.8 114.1h0M213.4 94.8h0M217.2 113.6h0M214.0 115.1h0M216.7 111.9h0M216.0 104.8h0M210.4 116.9h0M214.5 104.4h0M216.3 99.6h0M211.9 134.9h0M216.6 140.1h0M210.8 136.7h0M214.6 100.5h0M215.5 144.1h0M214.0 102.8h0M215.6 144.2h0M214.8 116.1h0M217.1 96.5h0M212.8 132.2h0M210.1 111.6h0M212.2 123.3h0M212.1 121.2h0M214.5 93.2h0M213.5 111.9h0M212.5 145.0h0M216.5 92.5h0M212.2 93.4h0M210.5 127.8h0M213.1 110.8h0M214.0 114.0h0M213.0 108.8h0M211.7 97.6h0M214.5 86.5h0M212.6 145.0h0M213.4 111.0h0M212.7 109.6h0M216.5 123.3h0M215.8 122.3h0M214.8 97.5h0M217.6 114.4h0M217.1 114.9h0M213.6 143.6h0M210.5 106.3h0M210.7 92.9h0M211.5 108.3h0M214.6 86.1h0M214.1 97.6h0M215.5 104.7h0M211.8 122.1h0M211.3 94.9h0M211.8 86.8h0M210.9 136.8h0M217.7 98.7h0M215.4 116.3h0M217.3 124.2h0M211.3 104.1h0M215.7 143.8h0M216.8 147.4h0M212.0 122.2h0M212.6 108.9h0M211.3 109.8h0M212.7 87.6h0M211.3 94.7h0M217.9 97.7h0M210.4 117.3h0M215.2 117.9h0M214.5 126.3h0M213.8 137.8h0M213.5 101.9h0M211.0 104.4h0M211.1 95.7h0M218.1 86.0h0M214.3 83.3h0M212.9 122.4h0M214.1 100.7h0M210.8 84.9h0M217.0 113.1h0M214.4 108.2h0M211.2 138.5h0M217.2 123.5h0M211.9 94.3h0M210.4 85.8h0M217.8 108.1h0M217.7 119.6h0M210.5 105.5h0M213.7 120.2h0M216.0 124.8h0M216.4 129.4h0M210.7 122.0h0M210.9 109.9h0M216.4 110.2h0M213.8 108.3h0M214.2 149.8h0M215.3 137.3h0M214.7 133.5h0M213.1 119.2h0M211.4 105.2h0M217.6 130.2h0M216.8 120.2h0M213.9 91.9h0M210.9 131.9h0M211.0 91.3h0M214.4 112.6h0M213.8 134.9h0M214.4 130.6h0M213.0 112.1h0M213.3 128.1h0M211.1 127.7h0M217.1 125.3h0M217.2 112.3h0M214.0 82.5h0M214.7 98.2h0M211.9 103.9h0M211.3 100.7h0M210.3 123.9h0M214.2 117.2h0M217.2 122.3h0M214.7 139.0h0M214.9 125.7h0M215.8 98.7h0M212.1 142.7h0M218.0 108.1h0M215.0 147.5h0M216.6 103.8h0M216.6 119.7h0M217.5 114.1h0M213.4 83.1h0M210.8 116.6h0M216.0 125.0h0M211.3 104.4h0M211.2 119.6h0M211.9 128.0h0M217.9 120.3h0M213.9 98.2h0M216.3 112.5h0M216.1 88.1h0M211.7 106.4h0M216.9 107.0h0M210.8 98.5h0M212.9 102.5h0M217.8 130.8h0M216.1 104.7h0M216.7 133.2h0M217.3 83.7h0M216.8 101.0h0M214.8 97.5h0M216.7 115.3h0M217.1 98.7h0M217.8 121.9h0M217.7 111.1h0M217.8 135.1h0M212.1 98.5h0M212.0 94.9h0M213.8 128.0h0M214.0 125.5h0M215.6 88.1h0M213.2 102.9h0M216.4 98.7h0M217.6 104.2h0M213.3 95.9h0M215.3 138.6h0M212.8 95.1h0M216.8 108.3h0M210.1 98.1h0M210.2 112.9h0M216.6 135.7h0M214.9 116.1h0M212.8 114.3h0M212.9 127.0h0M215.1 94.4h0M210.8 122.3h0M215.7 123.5h0M215.4 115.0h0M211.1 97.2h0M210.4 104.2h0M211.6 96.1h0M217.8 123.4h0M211.9 118.7h0M215.0 90.2h0M213.3 89.7h0M217.7 112.4h0M218.0 112.1h0M216.7 128.7h0M214.3 130.8h0M217.7 129.7h0M216.6 114.4h0M212.9 124.6h0M214.5 136.8h0M214.2 92.9h0M217.5 118.0h0M215.4 89.8h0M215.1 140.3h0M217.8 114.9h0M215.4 118.7h0M213.1 106.6h0M215.5 111.5h0M214.1 88.2h0M217.9 118.7h0M216.8 143.7h0M214.6 104.2h0M216.1 114.7h0M215.9 90.1h0M210.4 100.7h0M211.2 120.6h0M217.2 80.5h0M214.8 132.3h0M210.5 109.1h0M216.1 117.3h0M212.3 106.2h0M212.4 100.0h0M213.5 110.5h0M215.3 72.2h0M215.5 97.3h0M217.8 117.9h0M215.6 102.9h0M211.4 123.1h0M216.7 109.2h0M212.9 98.1h0M214.2 132.7h0M211.4 91.5h0M211.5 101.4h0M210.5 121.2h0M213.2 122.0h0M217.8 76.6h0M212.6 128.8h0M211.7 82.5h0M213.6 120.8h0M212.2 135.9h0M213.2 117.2h0M212.2 77.7h0M217.4 127.6h0M216.8 114.6h0M216.3 106.4h0M211.3 121.1h0M213.9 100.3h0M215.5 109.9h0M212.3 100.6h0M217.4 118.7h0M212.4 111.1h0M212.2 106.7h0M210.4 99.5h0M214.6 95.8h0M217.6 119.1h0M212.0 123.8h0M214.5 141.3h0M215.5 100.5h0M216.6 116.3h0M212.6 135.6h0M217.8 106.1h0M215.6 106.6h0M213.3 99.3h0M216.0 83.1h0M213.2 119.7h0M212.9 97.3h0M217.1 128.9h0M214.3 111.0h0M217.3 104.9h0M212.8 133.3h0M213.4 142.0h0M216.9 112.3h0M214.7 105.0h0M214.7 116.8h0M216.9 123.3h0M216.8 98.4h0M215.5 131.7h0M214.1 100.5h0M217.3 89.2h0M216.7 101.1h0M217.1 105.9h0M215.7 133.5h0M215.0 103.2h0M210.6 123.2h0M216.7 107.9h0M211.8 123.4h0M210.9 126.3h0M217.9 104.6h0M213.0 97.5h0M210.7 103.4h0M212.7 94.9h0M211.2 106.8h0M210.6 123.2h0M214.5 114.8h0M210.4 97.2h0M211.0 95.7h0M215.1 126.3h0M212.7 119.8h0M211.8 109.5h0M211.8 98.1h0M216.6 94.8h0M210.3 110.8h0M210.3 99.1h0M213.5 112.2h0M215.1 142.5h0M214.8 102.1h0M214.2 116.9h0M211.9 108.6h0M218.1 92.4h0M217.8 97.4h0M218.0 120.3h0M213.9 141.1h0M213.7 133.3h0M215.8 104.3h0M212.8 114.4h0M213.3 128.6h0M211.7 122.8h0M214.2 101.5h0M211.7 115.2h0M211.7 103.2h0M214.6 123.8h0M217.9 103.3h0M217.7 100.8h0M215.9 86.5h0M210.6 102.4h0M210.2 127.5h0M215.9 92.8h0M212.2 106.7h0M211.4 119.1h0M218.0 106.6h0M210.5 121.6h0M212.9 129.7h0M216.5 89.2h0M214.6 68.3h0M213.4 158.4h0M213.6 21.0h0M215.2 23.3h0M216.0 37.0h0M217.5 44.2h0M210.2 46.3h0M216.6 53.8h0M217.7 59.3h0M211.0 61.3h0M212.4 164.5h0M216.8 163.3h0M214.3 174.2h0M217.8 173.0h0M252.7 115.3h0M253.1 132.6h0M255.7 106.3h0M258.3 99.9h0M258.5 114.5h0M252.8 130.8h0M256.0 112.2h0M253.9 125.5h0M257.6 100.1h0M259.7 96.9h0M257.8 116.0h0M258.4 117.9h0M253.0 103.8h0M256.6 125.3h0M252.0 118.1h0M258.2 104.3h0M252.2 115.0h0M256.2 101.4h0M254.5 136.6h0M259.0 110.7h0M257.0 114.3h0M253.8 125.7h0M255.0 100.3h0M256.6 132.9h0M253.5 130.9h0M256.6 115.3h0M257.6 110.4h0M252.4 115.9h0M252.3 108.0h0M255.1 114.7h0M257.6 109.4h0M257.1 124.0h0M255.7 108.9h0M259.2 129.7h0M252.4 111.3h0M259.8 124.0h0M255.0 124.5h0M258.5 105.9h0M257.8 110.5h0M252.7 142.3h0M258.3 91.9h0M252.3 142.4h0M259.3 123.9h0M257.3 125.0h0M257.0 98.4h0M254.0 99.3h0M252.0 128.9h0M252.7 107.0h0M257.6 92.6h0M258.4 126.8h0M256.0 128.3h0M258.2 132.7h0M259.2 101.4h0M256.3 103.4h0M255.9 104.7h0M256.7 110.8h0M252.5 105.5h0M256.3 139.1h0M255.1 121.6h0M252.1 107.4h0M258.4 104.3h0M252.9 115.2h0M253.6 110.0h0M252.8 116.2h0M256.3 91.8h0M252.7 119.1h0M258.7 107.8h0M252.7 103.5h0M254.3 118.5h0M253.1 106.8h0M259.7 111.1h0M252.0 106.6h0M252.8 136.1h0M256.7 108.9h0M255.5 113.2h0M256.8 117.0h0M259.2 110.1h0M258.3 107.7h0M258.6 99.8h0M252.1 108.2h0M258.7 109.2h0M258.9 116.2h0M259.4 127.2h0M257.6 115.8h0M254.3 123.4h0M254.5 119.3h0M255.4 133.8h0M257.1 90.6h0M258.0 98.2h0M259.9 104.0h0M254.1 107.1h0M255.2 123.5h0M259.0 124.4h0M254.5 99.2h0M258.1 106.5h0M258.3 101.4h0M252.7 112.9h0M254.4 104.5h0M254.8 110.6h0M259.6 112.8h0M256.1 128.4h0M256.2 110.0h0M255.2 97.7h0M257.4 99.8h0M252.6 93.7h0M254.2 125.4h0M252.0 100.3h0M257.6 123.0h0M255.4 127.4h0M257.4 109.1h0M257.9 107.3h0M254.0 123.6h0M253.6 108.9h0M259.6 123.0h0M256.6 110.2h0M256.7 109.9h0M254.3 108.8h0M252.4 137.6h0M253.0 118.8h0M255.8 132.1h0M257.4 93.3h0M258.1 122.4h0M252.7 127.3h0M255.2 121.1h0M255.5 109.0h0M252.7 107.9h0M254.6 98.2h0M252.1 104.2h0M253.7 104.4h0M258.3 103.2h0M254.1 109.5h0M259.1 126.6h0M257.2 128.6h0M257.2 111.6h0M253.0 127.2h0M259.8 133.6h0M257.1 117.9h0M253.7 112.0h0M252.0 137.4h0M252.9 103.3h0M254.8 94.5h0M253.0 108.0h0M253.9 105.9h0M256.1 118.6h0M253.9 132.2h0M254.2 105.7h0M258.0 118.0h0M253.5 124.8h0M255.0 125.0h0M257.0 118.6h0M258.9 114.7h0M257.2 139.8h0M253.8 104.1h0M255.4 144.8h0M255.6 131.8h0M252.6 108.4h0M255.7 131.6h0M253.7 127.6h0M252.8 115.8h0M254.8 137.0h0M259.4 114.8h0M252.5 112.4h0M257.9 124.9h0M258.9 112.2h0M258.8 94.6h0M259.4 132.3h0M253.8 113.1h0M258.8 127.8h0M252.6 125.4h0M259.3 122.8h0M257.8 115.1h0M255.5 136.1h0M253.5 120.5h0M254.8 109.7h0M259.8 131.5h0M253.3 114.4h0M256.0 110.0h0M257.8 114.8h0M253.8 112.8h0M256.7 113.7h0M253.1 110.0h0M259.5 105.4h0M258.8 107.5h0M259.1 118.5h0M253.7 127.1h0M259.1 111.4h0M253.6 135.2h0M255.4 142.9h0M253.4 129.8h0M256.6 107.2h0M255.1 97.5h0M252.0 109.3h0M253.8 96.5h0M256.0 114.5h0M255.8 96.5h0M253.6 110.8h0M253.5 104.2h0M253.7 115.3h0M254.5 94.8h0M254.6 117.1h0M252.1 109.6h0M253.2 118.3h0M251.9 104.4h0M254.0 111.1h0M256.4 115.3h0M253.0 108.4h0M252.9 123.9h0M253.1 94.9h0M256.1 130.1h0M259.0 111.8h0M253.8 138.7h0M256.6 128.0h0M255.2 115.4h0M257.2 101.5h0M259.6 103.0h0M259.4 122.6h0M252.3 117.0h0M252.7 99.7h0M254.2 121.7h0M258.9 93.8h0M256.1 116.6h0M258.4 103.5h0M256.0 110.0h0M253.8 131.7h0M256.6 109.8h0M259.1 105.5h0M253.4 94.6h0M259.1 135.9h0M253.4 112.0h0M253.9 108.9h0M254.8 124.1h0M257.3 113.1h0M257.8 136.3h0M255.7 110.7h0M258.3 109.5h0M257.3 114.6h0M257.1 108.4h0M259.6 127.2h0M253.8 106.0h0M259.6 116.2h0M255.2 125.7h0M259.1 94.7h0M257.8 124.3h0M257.2 118.8h0M252.9 106.7h0M253.6 124.8h0M252.2 122.7h0M255.1 130.2h0M252.5 116.5h0M259.4 111.7h0M254.7 111.9h0M255.4 108.6h0M255.8 127.5h0M253.2 109.4h0M259.6 118.5h0M258.6 106.7h0M257.0 110.2h0M259.6 108.6h0M258.0 126.3h0M253.9 121.2h0M256.7 104.7h0M258.9 103.5h0M253.5 111.6h0M257.7 112.9h0M252.5 122.5h0M257.5 127.6h0M254.0 124.5h0M259.8 108.4h0M259.4 131.9h0M253.1 93.2h0M256.1 119.8h0M255.2 120.4h0M254.0 114.5h0M252.6 139.0h0M252.6 128.3h0M257.5 110.7h0M258.2 122.9h0M254.6 107.9h0M253.4 114.0h0M256.4 98.5h0M253.1 139.7h0M255.0 108.9h0M253.7 108.2h0M258.3 105.6h0M256.6 133.8h0M257.6 126.5h0M258.2 105.4h0M252.6 124.4h0M256.4 109.7h0M253.4 130.0h0M252.8 111.7h0M253.8 110.5h0M255.3 123.1h0M257.7 112.9h0M257.7 144.3h0M254.2 124.9h0M257.4 110.3h0M259.1 110.9h0M254.4 125.8h0M254.0 109.7h0M253.7 128.6h0M258.5 106.5h0M259.6 108.2h0M254.4 105.7h0M257.7 120.6h0M256.8 138.9h0M252.3 134.4h0M253.1 113.4h0M258.9 98.3h0M253.5 115.1h0M256.0 131.5h0M254.8 113.2h0M256.1 108.2h0M252.7 106.4h0M255.0 136.7h0M253.9 114.3h0M253.7 109.6h0M255.7 120.5h0M258.1 108.3h0M255.5 118.4h0M259.4 98.7h0M252.7 110.8h0M257.0 115.3h0M252.2 122.2h0M259.2 90.5h0M255.6 130.7h0M254.3 110.8h0M257.9 136.9h0M255.4 106.5h0M255.1 134.8h0M259.6 133.9h0M254.2 139.7h0M253.0 106.6h0M252.5 132.6h0M256.2 128.2h0M253.3 104.2h0M258.0 127.6h0M254.6 116.4h0M253.8 131.2h0M252.8 92.9h0M257.8 123.0h0M259.1 101.2h0M259.6 114.7h0M254.2 111.2h0M257.6 114.9h0M252.9 107.7h0M259.6 126.4h0M256.4 88.2h0M255.2 145.2h0M253.4 150.5h0M260.0 151.0h0M259.0 174.5h0M259.0 218.5h0M342.1 160.6h0M337.6 146.5h0M339.4 150.4h0M342.4 157.0h0M337.0 147.3h0M338.3 127.3h0M338.9 154.3h0M342.5 121.9h0M335.7 136.4h0M340.5 126.2h0M343.2 114.1h0M342.4 147.0h0M337.7 122.2h0M338.6 145.4h0M338.6 145.9h0M337.4 160.3h0M338.9 112.7h0M342.7 133.4h0M337.6 126.7h0M342.0 111.2h0M341.6 128.4h0M337.6 122.6h0M338.6 132.4h0M336.7 120.4h0M338.3 138.1h0M338.4 122.0h0M342.4 120.1h0M336.7 116.6h0M341.6 107.9h0M340.8 131.3h0M342.6 169.0h0M339.2 137.7h0M341.9 146.5h0M342.6 124.9h0M338.3 152.6h0M336.4 150.7h0M335.8 147.0h0M337.4 123.9h0M336.1 165.0h0M337.2 127.6h0M338.8 141.5h0M343.2 123.4h0M340.7 147.8h0M339.4 114.7h0M341.5 114.1h0M342.6 147.7h0M336.4 136.5h0M342.2 135.8h0M339.5 139.1h0M342.6 143.3h0M337.3 131.9h0M338.5 145.5h0M341.2 102.9h0M342.9 158.9h0M340.3 172.2h0M341.3 142.6h0M336.3 142.8h0M342.2 138.9h0M338.5 124.4h0M341.6 152.2h0M337.4 123.5h0M343.5 116.1h0M338.6 142.6h0M343.0 129.4h0M338.0 153.4h0M341.5 146.9h0M340.0 154.3h0M340.9 140.0h0M343.3 157.4h0M342.0 137.1h0M342.9 154.5h0M341.7 137.6h0M338.5 117.7h0M337.3 110.5h0M339.6 176.1h0M342.8 114.2h0M339.7 104.0h0M340.1 109.0h0M340.6 157.4h0M339.0 123.4h0M337.7 135.1h0M339.0 149.4h0M339.3 139.4h0M335.6 162.2h0M341.3 146.4h0M337.5 127.1h0M339.7 150.4h0M340.4 155.0h0M337.2 113.5h0M341.4 135.9h0M341.3 127.1h0M337.8 129.4h0M343.0 120.6h0M343.2 168.1h0M336.3 142.2h0M342.0 165.2h0M336.7 131.2h0M340.7 141.6h0M341.7 146.6h0M337.2 150.9h0M338.9 156.0h0M338.0 134.3h0M337.3 156.0h0M337.1 163.1h0M339.6 147.5h0M339.4 154.5h0M343.4 142.4h0M343.2 140.5h0M337.2 141.1h0M336.8 135.6h0M336.2 155.5h0M343.3 129.9h0M338.4 143.8h0M338.4 142.9h0M338.7 130.5h0M342.5 156.7h0M335.7 136.5h0M341.4 119.6h0M340.6 145.8h0M338.8 111.1h0M338.0 142.6h0M340.9 137.4h0M343.2 127.9h0M338.5 157.2h0M341.9 119.4h0M341.0 135.7h0M343.2 146.5h0M338.8 137.7h0M336.5 154.6h0M342.0 114.4h0M338.2 174.8h0M339.6 140.8h0M342.8 145.5h0M339.9 146.0h0M340.7 109.6h0M338.3 140.9h0M340.5 144.5h0M337.7 124.6h0M338.7 145.2h0M342.9 145.5h0M337.8 138.2h0M342.2 146.8h0M341.1 156.1h0M337.1 176.9h0M342.0 166.8h0M337.4 157.1h0M337.7 167.1h0M341.4 128.0h0M343.2 112.6h0M343.0 137.6h0M343.0 162.5h0M337.1 142.6h0M342.5 127.1h0M336.3 144.5h0M341.6 117.2h0M343.4 135.4h0M336.0 171.3h0M335.8 159.0h0M340.6 129.5h0M336.9 160.1h0M340.5 154.7h0M343.4 131.5h0M343.4 145.6h0M338.7 142.6h0M337.5 150.5h0M343.6 97.1h0M337.0 129.7h0M336.8 154.8h0M341.5 146.0h0M339.8 166.9h0M335.9 131.1h0M341.9 142.4h0M339.2 136.4h0M340.4 116.3h0M338.8 146.6h0M342.5 106.8h0M340.1 112.0h0M337.0 157.5h0M341.1 144.6h0M341.9 123.5h0M335.6 139.3h0M338.9 123.8h0M340.2 131.7h0M338.9 128.3h0M343.2 102.6h0M340.5 109.7h0M338.6 147.5h0M342.8 149.7h0M341.9 124.2h0M343.5 122.0h0M338.1 130.7h0M337.7 126.5h0M336.9 134.7h0M339.5 118.8h0M343.0 149.4h0M343.0 163.3h0M336.8 126.6h0M340.2 126.3h0M340.3 113.1h0M343.1 142.9h0M341.8 162.8h0M337.8 161.0h0M342.6 160.0h0M341.4 142.3h0M341.4 150.3h0M336.4 132.7h0M341.4 140.2h0M340.8 152.6h0M338.6 149.3h0M343.1 111.2h0M340.2 142.9h0M341.7 123.0h0M342.5 141.7h0M343.2 143.9h0M336.5 141.1h0M336.8 127.1h0M336.0 131.1h0M341.5 138.1h0M340.7 158.4h0M337.6 144.9h0M335.9 122.5h0M336.3 140.9h0M342.7 119.4h0M339.3 172.3h0M341.3 141.2h0M338.3 128.3h0M337.1 109.0h0M342.1 157.9h0M337.1 159.4h0M338.3 140.0h0M343.0 155.9h0M341.9 141.0h0M342.9 150.7h0M342.9 152.2h0M343.4 134.6h0M340.6 125.6h0M342.4 138.4h0M336.4 142.2h0M342.0 112.1h0M341.6 131.0h0M339.3 151.6h0M343.3 121.8h0M336.9 110.6h0M340.0 130.9h0M336.9 143.7h0M339.4 157.9h0M337.7 140.3h0M340.0 145.3h0M340.3 126.3h0M342.7 156.0h0M343.3 145.3h0M340.3 157.6h0M338.7 100.3h0M338.1 137.7h0M337.2 174.1h0M337.9 159.0h0M340.1 133.7h0M341.1 105.7h0M343.2 145.5h0M339.9 133.5h0M341.0 118.3h0M340.4 145.6h0M343.4 148.2h0M343.4 151.0h0M335.7 166.0h0M337.2 137.5h0M336.5 139.6h0M341.0 120.7h0M343.0 130.9h0M341.3 131.2h0M339.0 168.7h0M338.1 99.4h0M335.7 136.7h0M342.8 143.3h0M342.2 135.7h0M337.2 181.8h0M342.3 154.8h0M343.1 161.2h0M342.6 149.8h0M338.2 139.3h0M338.8 100.4h0M336.1 130.1h0M343.4 121.2h0M341.6 160.3h0M336.8 149.7h0M340.9 145.4h0M343.6 104.4h0M340.8 134.0h0M341.4 156.0h0M338.5 137.6h0M337.6 114.0h0M336.9 157.5h0M340.3 156.9h0M336.9 123.6h0M340.2 139.9h0M338.9 137.1h0M335.7 137.9h0M339.0 167.1h0M341.7 151.4h0M342.2 151.1h0M336.3 151.1h0M338.7 140.9h0M341.7 146.6h0M341.0 152.2h0M339.2 120.9h0M343.0 139.9h0M337.0 135.0h0M336.3 165.2h0M336.3 146.8h0M339.0 132.7h0M339.7 147.9h0M337.6 108.2h0M338.0 156.5h0M342.9 147.1h0M339.0 129.6h0M336.0 155.7h0M342.4 159.1h0M336.9 132.8h0M336.1 134.0h0M338.3 139.7h0M341.5 161.1h0M339.7 129.0h0M341.0 155.6h0M340.9 142.6h0M342.8 162.3h0M338.8 152.2h0M336.3 153.6h0M343.6 130.7h0M337.7 146.7h0M337.4 131.6h0M341.1 143.9h0M336.8 142.7h0M339.9 165.1h0M336.4 111.2h0M339.5 139.9h0M341.0 153.9h0M342.1 140.2h0M343.1 148.6h0M339.4 122.5h0M339.5 157.5h0M341.1 158.7h0M340.2 130.1h0M336.0 96.2h0M342.0 129.1h0M338.2 160.0h0M340.3 167.8h0M338.4 128.7h0M338.5 130.2h0M337.8 129.3h0M339.1 95.3h0M341.4 162.3h0M340.7 118.1h0M342.6 156.5h0M336.5 129.0h0M341.0 144.7h0M338.4 170.3h0M343.6 117.1h0M342.9 147.4h0M342.5 124.6h0M343.4 135.8h0M343.2 133.0h0M337.2 136.9h0M339.5 139.1h0M338.6 146.6h0M340.3 139.5h0M337.8 152.2h0M339.6 139.9h0M340.9 143.2h0M339.9 154.4h0M340.1 94.5h0M338.9 183.3h0M338.8 64.4h0M336.3 83.7h0M341.4 86.7h0M343.3 91.8h0M339.3 198.2h0M383.4 166.4h0M383.4 149.9h0M379.2 158.2h0M381.3 132.6h0M379.5 162.8h0M382.9 162.0h0M381.1 143.2h0M378.9 148.4h0M380.1 160.4h0M380.1 165.2h0M383.1 147.1h0M379.1 169.3h0M382.4 145.4h0M382.3 151.2h0M379.4 150.4h0M380.1 180.0h0M384.9 185.1h0M382.6 157.9h0M383.6 123.8h0M379.9 168.3h0M383.6 175.2h0M381.1 148.1h0M379.4 163.0h0M382.9 159.3h0M384.0 136.5h0M380.7 139.2h0M379.7 161.4h0M378.7 121.1h0M379.4 171.8h0M384.0 133.1h0M384.0 164.3h0M380.6 137.0h0M383.4 170.0h0M378.2 162.9h0M380.7 135.6h0M382.0 162.1h0M377.4 167.2h0M380.2 162.4h0M383.3 163.0h0M382.6 164.3h0M378.7 153.6h0M382.1 151.3h0M378.8 165.7h0M384.5 140.3h0M381.9 168.1h0M379.8 155.8h0M379.8 184.1h0M382.0 152.7h0M378.2 158.5h0M379.7 169.0h0M380.1 161.5h0M378.1 135.7h0M384.1 167.8h0M381.9 167.7h0M377.5 162.8h0M383.7 144.6h0M383.4 166.6h0M385.1 159.5h0M380.2 180.9h0M382.2 168.3h0M383.9 145.8h0M380.3 156.9h0M378.0 144.4h0M383.2 167.0h0M385.1 160.8h0M380.9 176.7h0M377.2 169.0h0M377.9 176.4h0M380.7 163.0h0M379.5 158.6h0M381.3 149.9h0M381.3 171.2h0M380.2 159.1h0M378.9 139.8h0M380.1 138.3h0M382.1 164.2h0M379.5 156.2h0M384.8 177.3h0M378.1 163.0h0M381.5 152.1h0M379.8 164.5h0M379.9 141.2h0M384.9 161.5h0M380.4 163.3h0M382.5 171.6h0M380.8 151.7h0M379.1 161.8h0M380.9 145.1h0M380.2 142.2h0M377.4 148.3h0M384.9 168.7h0M382.6 150.9h0M381.0 159.0h0M378.6 169.7h0M382.8 152.6h0M382.4 167.0h0M382.1 173.2h0M381.3 171.1h0M381.6 164.9h0M381.1 173.3h0M378.3 153.9h0M382.6 165.1h0M382.1 157.0h0M381.8 145.7h0M380.7 168.6h0M381.7 142.3h0M380.1 147.2h0M385.0 160.5h0M382.4 142.9h0M382.1 175.3h0M384.7 184.9h0M383.0 121.9h0M384.0 166.7h0M383.8 170.8h0M377.3 158.0h0M380.7 137.0h0M382.7 142.3h0M384.1 157.5h0M384.4 169.5h0M377.4 164.1h0M377.7 164.1h0M382.2 178.6h0M378.5 174.2h0M379.4 165.7h0M384.4 133.4h0M385.1 139.0h0M383.6 160.8h0M384.6 166.2h0M383.1 143.7h0M377.9 168.3h0M381.6 132.7h0M384.1 154.1h0M382.8 172.7h0M383.5 160.0h0M378.8 160.3h0M379.4 126.7h0M383.8 147.7h0M382.8 167.5h0M379.0 162.2h0M384.8 168.8h0M381.3 163.1h0M377.4 158.8h0M383.2 147.2h0M380.1 138.5h0M380.0 169.1h0M382.5 148.4h0M381.4 161.8h0M384.5 172.1h0M381.3 159.8h0M378.8 145.2h0M380.0 148.9h0M378.0 143.6h0M382.3 166.4h0M380.2 159.4h0M378.9 155.6h0M377.2 160.8h0M379.2 144.5h0M381.6 142.3h0M382.2 154.6h0M383.4 173.9h0M381.7 120.5h0M380.5 186.3h0M384.8 100.6h0M384.2 115.2h0M468.0 121.4h0M466.5 91.6h0M464.6 89.4h0M468.7 98.7h0M461.9 130.4h0M465.2 113.1h0M462.9 134.9h0M464.2 84.7h0M462.6 134.9h0M462.6 103.7h0M465.4 109.1h0M465.1 111.3h0M461.2 87.6h0M462.7 76.0h0M467.2 158.1h0M465.4 104.1h0M467.3 127.6h0M466.9 120.4h0M465.7 126.7h0M464.1 100.1h0M461.6 108.8h0M466.6 100.3h0M465.5 134.4h0M461.9 95.2h0M468.1 87.4h0M463.1 153.6h0M463.1 145.0h0M465.0 144.6h0M463.5 124.7h0M464.1 109.9h0M466.9 91.5h0M462.9 139.7h0M462.0 118.7h0M467.3 97.3h0M461.4 128.4h0M464.4 93.7h0M464.2 75.8h0M461.7 119.9h0M465.2 72.2h0M464.6 111.2h0M467.7 92.9h0M462.5 109.0h0M468.2 113.5h0M466.4 113.4h0M464.8 104.6h0M463.1 103.8h0M468.0 104.7h0M464.1 145.9h0M468.9 83.2h0M466.2 101.2h0M464.9 87.0h0M463.5 137.2h0M466.9 96.4h0M466.2 128.9h0M466.4 99.6h0M463.7 111.2h0M463.8 102.7h0M466.5 137.6h0M467.4 121.8h0M465.5 120.4h0M462.0 90.0h0M461.6 95.3h0M461.3 74.8h0M464.0 95.7h0M464.3 131.4h0M464.4 107.4h0M465.3 138.5h0M468.8 120.8h0M464.6 115.0h0M468.9 126.7h0M466.3 119.2h0M464.2 88.0h0M463.3 93.8h0M461.4 140.4h0M468.1 110.7h0M464.6 129.0h0M463.3 93.3h0M465.3 134.4h0M468.6 112.2h0M463.0 81.1h0M464.4 104.5h0M464.7 160.0h0M463.5 78.5h0M466.8 103.3h0M468.5 149.9h0M463.5 140.5h0M461.3 96.2h0M462.1 115.5h0M461.2 109.2h0M462.9 134.6h0M461.8 145.6h0M465.2 129.8h0M467.7 136.4h0M463.1 112.8h0M467.8 125.5h0M467.0 154.8h0M468.7 142.5h0M465.9 113.3h0M461.9 85.1h0M466.6 149.6h0M466.9 103.2h0M465.1 122.5h0M464.6 130.6h0M465.8 122.2h0M463.3 120.9h0M461.8 100.4h0M465.1 90.5h0M462.0 126.6h0M465.1 107.1h0M464.1 96.0h0M468.2 113.1h0M468.9 122.8h0M469.0 81.7h0M463.2 73.3h0M466.0 89.5h0M469.1 128.9h0M467.6 100.1h0M461.7 104.7h0M462.5 85.1h0M466.0 124.0h0M464.8 129.9h0M461.9 96.4h0M461.9 99.4h0M466.3 109.0h0M461.4 97.9h0M468.8 130.2h0M464.5 114.5h0M466.7 115.6h0M466.3 94.7h0M465.7 113.7h0M462.6 106.7h0M468.8 71.8h0M469.0 92.3h0M467.8 109.7h0M467.0 125.6h0M468.6 96.3h0M468.1 87.9h0M467.4 123.3h0M463.6 109.1h0M467.5 116.0h0M467.9 87.1h0M462.5 98.9h0M465.6 134.1h0M463.8 128.1h0M462.3 141.6h0M462.9 96.2h0M463.7 86.6h0M463.5 86.5h0M464.3 123.3h0M464.1 111.6h0M464.1 85.2h0M462.9 68.8h0M461.3 124.5h0M466.8 142.1h0M465.1 103.5h0M463.4 125.1h0M464.1 65.3h0M468.2 52.7h0M467.9 138.1h0M467.6 96.5h0M465.5 97.4h0M462.3 89.6h0M463.2 105.6h0M462.6 113.9h0M465.7 96.7h0M466.1 92.1h0M468.5 102.6h0M465.6 89.6h0M468.5 118.9h0M461.9 115.8h0M466.8 118.4h0M466.3 75.8h0M468.6 99.3h0M464.7 92.2h0M467.2 109.9h0M462.0 119.5h0M467.6 101.6h0M466.6 124.9h0M462.1 81.7h0M465.0 136.6h0M468.7 118.3h0M467.4 110.9h0M462.5 100.9h0M462.5 64.5h0M464.7 146.7h0M464.4 108.7h0M464.4 70.6h0M467.3 86.4h0M463.0 103.3h0M465.0 120.5h0M466.3 114.2h0M463.7 107.2h0M469.1 102.2h0M463.8 129.0h0M461.5 143.1h0M467.8 112.4h0M468.8 97.3h0M465.8 87.6h0M461.2 103.5h0M463.2 115.0h0M461.6 101.5h0M464.1 105.4h0M464.3 108.0h0M467.0 141.7h0M465.9 90.6h0M465.9 139.5h0M469.0 84.2h0M461.5 93.6h0M466.4 83.4h0M468.5 122.6h0M468.3 88.5h0M465.7 125.0h0M463.5 115.3h0M466.0 93.4h0M465.4 118.5h0M465.6 76.3h0M465.6 78.8h0M464.8 162.5h0M466.9 104.9h0M466.1 65.8h0M466.2 108.9h0M466.7 105.9h0M461.2 72.5h0M468.1 119.3h0M467.4 150.8h0M466.3 161.5h0M463.0 90.6h0M462.9 115.1h0M465.3 96.9h0M463.7 102.3h0M468.7 103.2h0M468.7 92.1h0M465.2 125.0h0M463.9 114.8h0M462.5 90.4h0M467.3 104.6h0M461.2 75.0h0M465.0 123.1h0M462.4 74.8h0M464.3 87.2h0M468.5 105.2h0M463.7 149.6h0M462.2 134.1h0M466.7 120.6h0M462.1 103.5h0M465.2 90.5h0M467.7 135.6h0M462.8 89.0h0M467.6 74.1h0M461.1 126.6h0M467.7 84.6h0M467.2 142.5h0M466.2 92.6h0M469.0 88.0h0M467.8 118.8h0M463.6 77.6h0M466.6 98.1h0M465.6 86.5h0M463.1 122.7h0M462.2 105.4h0M468.2 85.4h0M466.7 125.4h0M462.1 98.7h0M467.2 92.2h0M461.9 120.4h0M467.3 122.2h0M467.6 109.6h0M462.0 133.6h0M468.1 117.3h0M461.7 133.4h0M461.8 93.9h0M461.8 99.0h0M466.4 125.0h0M464.4 84.0h0M461.3 110.7h0M463.0 117.9h0M466.8 91.5h0M465.4 91.8h0M462.1 97.2h0M463.4 114.9h0M467.0 122.2h0M463.7 127.9h0M468.0 122.2h0M464.9 100.6h0M468.5 115.2h0M464.7 74.2h0M468.0 104.2h0M463.2 124.2h0M465.1 141.5h0M462.4 92.9h0M469.0 111.8h0M464.2 108.7h0M468.2 87.4h0M462.1 115.5h0M467.0 100.7h0M466.4 77.2h0M465.2 120.3h0M464.7 121.8h0M468.4 109.5h0M468.5 79.9h0M468.8 108.9h0M468.5 136.2h0M468.1 100.5h0M469.0 113.0h0M467.7 86.6h0M467.7 115.6h0M467.1 128.0h0M464.4 109.5h0M467.5 129.6h0M461.8 95.3h0M462.9 61.5h0M464.4 115.5h0M468.2 103.7h0M466.2 72.9h0M462.0 116.2h0M465.3 148.4h0M464.7 103.4h0M464.4 58.7h0M464.4 117.2h0M468.6 132.2h0M465.4 103.0h0M463.1 112.2h0M465.0 119.7h0M468.9 110.9h0M462.8 104.4h0M462.4 152.5h0M467.4 117.5h0M463.0 82.1h0M464.6 92.1h0M465.4 105.7h0M461.6 156.4h0M466.6 99.0h0M468.5 115.2h0M463.5 89.0h0M465.5 148.9h0M462.9 99.7h0M465.0 155.9h0M467.0 159.9h0M463.3 101.2h0M463.0 110.9h0M462.6 130.7h0M464.7 89.4h0M463.9 96.3h0M465.9 90.1h0M464.2 99.7h0M462.6 104.5h0M466.5 63.6h0M466.2 105.9h0M463.8 142.0h0M467.8 126.4h0M468.0 111.0h0M466.9 91.9h0M463.0 120.7h0M463.5 96.9h0M463.9 95.8h0M465.7 93.4h0M469.0 89.4h0M469.0 115.3h0M461.3 83.5h0M464.2 105.3h0M463.6 92.8h0M467.4 128.5h0M467.1 105.0h0M461.4 108.2h0M462.8 92.7h0M461.1 109.3h0M466.4 124.0h0M466.2 93.2h0M467.0 111.1h0M462.7 98.9h0M465.9 105.8h0M462.7 95.5h0M463.8 120.0h0M463.9 142.8h0M465.7 95.4h0M467.0 132.1h0M467.1 139.3h0M461.9 135.1h0M465.2 124.6h0M468.2 123.1h0M463.4 74.4h0M466.7 94.1h0M463.1 104.5h0M468.8 71.8h0M463.7 118.6h0M464.5 129.5h0M461.3 81.0h0M463.6 87.7h0M463.3 80.8h0M462.0 128.1h0M462.1 116.1h0M463.1 131.4h0M464.7 103.7h0M465.3 120.5h0M466.9 92.5h0M468.4 117.7h0M465.6 91.3h0M463.7 109.0h0M468.2 136.8h0M461.9 102.1h0M468.2 76.8h0M466.7 160.2h0M465.4 125.8h0M463.9 87.8h0M466.4 107.6h0M466.1 130.1h0M469.0 112.2h0M466.8 130.5h0M465.6 51.6h0M464.4 164.6h0M463.5 44.2h0M463.2 46.5h0M505.4 162.8h0M504.4 153.5h0M504.6 135.0h0M504.0 115.6h0M510.1 128.9h0M504.9 152.8h0M507.0 118.4h0M505.9 95.9h0M510.9 140.2h0M510.9 142.1h0M504.8 104.0h0M510.7 133.9h0M510.0 153.5h0M509.2 117.5h0M504.0 130.4h0M509.5 154.7h0M505.7 121.8h0M506.5 124.7h0M503.5 119.6h0M506.3 95.6h0M507.0 114.8h0M505.6 113.9h0M503.4 134.0h0M503.8 137.2h0M508.6 108.5h0M511.0 139.3h0M510.9 91.9h0M508.8 156.7h0M508.0 121.4h0M510.6 170.8h0M508.0 138.8h0M505.4 113.6h0M510.6 165.7h0M503.5 145.0h0M511.2 152.0h0M504.9 120.5h0M510.4 151.4h0M507.9 126.1h0M506.5 152.4h0M503.2 92.0h0M503.7 139.5h0M510.8 154.6h0M509.1 110.7h0M508.8 162.6h0M507.1 137.0h0M507.3 151.5h0M504.3 114.9h0M506.6 106.2h0M505.1 145.2h0M508.4 138.1h0M510.3 132.4h0M507.3 136.1h0M503.3 147.5h0M505.7 142.7h0M506.5 153.0h0M510.6 164.2h0M510.2 137.3h0M509.0 123.7h0M505.6 118.9h0M504.8 121.3h0M508.0 133.4h0M504.5 117.4h0M509.8 142.1h0M511.0 114.7h0M504.9 153.4h0M509.0 154.4h0M508.4 120.0h0M507.3 117.1h0M510.6 132.9h0M508.4 127.2h0M507.2 131.2h0M507.8 119.0h0M506.6 152.6h0M506.7 139.4h0M506.1 133.0h0M506.6 140.5h0M511.0 141.2h0M503.3 155.9h0M506.4 121.9h0M507.9 138.5h0M505.1 141.3h0M510.2 171.0h0M505.5 94.1h0M505.8 138.0h0M510.3 159.8h0M505.1 111.3h0M508.8 145.7h0M507.0 115.4h0M505.1 140.6h0M510.1 115.3h0M504.1 108.7h0M511.1 130.9h0M506.9 122.4h0M503.7 151.5h0M503.7 121.1h0M508.5 114.2h0M510.3 137.7h0M508.1 95.8h0M507.9 155.0h0M505.2 139.4h0M509.0 96.7h0M505.0 153.1h0M507.8 142.2h0M506.7 142.9h0M504.7 113.8h0M505.8 122.0h0M510.8 92.5h0M508.0 142.8h0M506.5 154.0h0M508.3 128.9h0M503.5 142.2h0M507.7 152.9h0M505.6 149.8h0M510.4 129.3h0M505.2 135.8h0M505.4 131.4h0M504.4 116.8h0M506.7 145.4h0M504.5 101.0h0M504.3 148.7h0M505.9 147.6h0M509.3 140.3h0M507.0 140.0h0M509.4 140.3h0M506.6 101.9h0M505.2 98.4h0M508.7 135.2h0M505.4 140.8h0M510.3 152.1h0M508.8 141.6h0M507.4 138.1h0M504.6 147.9h0M508.7 142.4h0M503.2 134.1h0M506.7 122.7h0M505.3 158.3h0M509.8 147.7h0M505.8 133.7h0M505.5 146.0h0M506.0 144.6h0M509.5 116.0h0M510.3 123.7h0M504.1 126.8h0M504.5 162.1h0M507.4 145.5h0M507.9 112.9h0M505.1 139.1h0M505.9 119.3h0M511.1 161.8h0M510.0 145.6h0M508.4 153.5h0M510.3 141.7h0M504.0 143.9h0M509.6 148.3h0M508.7 127.6h0M505.4 144.5h0M511.1 156.3h0M508.1 162.3h0M504.7 141.9h0M510.6 138.9h0M504.5 146.0h0M508.5 128.5h0M504.6 136.1h0M504.1 106.5h0M505.1 149.7h0M507.0 135.9h0M509.0 133.4h0M506.9 103.5h0M509.8 162.6h0M505.7 169.5h0M508.0 151.6h0M504.2 116.8h0M510.0 144.0h0M504.1 124.4h0M509.6 124.5h0M504.4 139.9h0M505.8 126.5h0M504.5 152.2h0M504.2 140.1h0M507.6 140.7h0M506.4 133.5h0M503.9 115.1h0M510.7 142.7h0M510.6 107.9h0M507.5 118.3h0M507.8 116.3h0M505.2 153.5h0M510.2 155.2h0M506.5 143.0h0M504.0 134.4h0M509.6 123.1h0M510.2 115.5h0M504.4 143.1h0M508.7 118.6h0M505.9 141.1h0M509.9 150.9h0M509.7 138.1h0M505.8 142.3h0M509.2 136.0h0M506.0 105.3h0M506.4 124.0h0M509.3 108.2h0M506.1 133.3h0M510.3 144.9h0M505.6 115.0h0M504.8 156.5h0M509.7 163.2h0M507.6 135.0h0M506.5 134.3h0M503.9 133.2h0M504.0 98.7h0M507.7 91.5h0M506.5 184.2h0M509.2 77.2h0M591.7 118.5h0M592.8 97.3h0M593.7 95.6h0M586.4 128.5h0M592.5 112.4h0M590.6 117.5h0M587.6 92.7h0M593.5 100.8h0M589.5 93.6h0M588.5 102.4h0M592.6 78.1h0M588.7 96.0h0M590.2 94.2h0M589.2 91.5h0M591.8 86.8h0M590.8 103.4h0M590.5 91.2h0M586.4 78.2h0M592.0 85.7h0M593.1 102.0h0M589.0 117.8h0M592.9 94.9h0M594.3 106.4h0M586.7 97.1h0M586.9 119.8h0M588.9 99.5h0M589.9 111.2h0M593.6 124.5h0M590.8 89.5h0M588.8 103.7h0M589.1 98.5h0M593.9 74.6h0M592.9 94.4h0M587.3 124.8h0M587.3 107.5h0M594.2 104.5h0M594.0 89.7h0M588.1 113.2h0M588.5 136.1h0M590.5 127.7h0M591.7 109.4h0M591.1 99.8h0M592.2 109.5h0M592.0 95.7h0M590.0 102.7h0M586.6 110.1h0M591.2 102.9h0M593.2 115.3h0M593.1 87.0h0M590.2 90.6h0M588.5 115.9h0M594.2 94.0h0M586.4 120.9h0M589.1 107.2h0M587.2 98.7h0M589.0 89.2h0M588.9 84.7h0M587.7 109.2h0M591.0 77.1h0M586.8 90.2h0M592.2 100.3h0M593.8 71.5h0M589.3 121.6h0M594.0 100.6h0M586.5 111.6h0M588.4 80.5h0M589.2 99.8h0M593.8 99.3h0M593.3 80.4h0M592.9 111.5h0M593.9 104.7h0M589.2 111.6h0M588.2 99.2h0M591.5 95.1h0M593.7 122.5h0M591.9 125.3h0M587.4 107.4h0M594.3 124.5h0M590.0 91.4h0M594.1 91.6h0M590.6 83.0h0M590.4 110.6h0M592.1 72.6h0M593.0 96.4h0M590.8 105.0h0M587.9 88.9h0M586.5 88.3h0M590.9 100.5h0M593.7 118.0h0M587.8 103.9h0M591.0 104.9h0M586.3 104.3h0M592.0 122.8h0M588.3 119.1h0M593.2 91.0h0M587.7 86.8h0M591.1 93.3h0M586.4 106.8h0M588.2 104.2h0M594.1 99.0h0M586.9 113.9h0M587.2 95.6h0M589.8 113.2h0M588.9 70.4h0M590.1 108.8h0M589.5 116.8h0M588.9 95.3h0M587.8 91.6h0M591.3 121.8h0M593.6 103.4h0M592.3 121.4h0M589.3 96.4h0M591.2 119.4h0M590.1 93.2h0M591.8 102.6h0M589.7 98.3h0M590.0 115.3h0M593.5 100.1h0M588.9 99.9h0M591.3 113.2h0M588.3 94.0h0M594.3 95.7h0M593.8 105.7h0M591.5 104.0h0M587.9 87.8h0M594.2 107.5h0M588.7 126.2h0M592.3 102.5h0M593.7 97.7h0M586.3 96.4h0M586.6 125.4h0M586.5 104.2h0M591.4 100.8h0M593.1 114.3h0M594.0 104.8h0M591.3 107.0h0M588.4 100.4h0M586.3 92.3h0M588.9 111.8h0M590.3 86.8h0M588.7 131.9h0M592.8 98.3h0M592.5 121.1h0M590.5 105.7h0M589.8 104.6h0M593.6 83.7h0M591.9 94.1h0M586.6 118.3h0M591.7 89.9h0M588.8 97.7h0M593.7 111.0h0M586.5 100.7h0M589.1 107.7h0M594.1 125.9h0M592.8 85.2h0M587.2 104.7h0M592.8 94.4h0M592.6 91.9h0M586.4 120.0h0M593.0 122.7h0M590.4 90.0h0M593.2 112.6h0M588.9 120.0h0M589.6 72.0h0M592.7 92.7h0M594.2 99.2h0M593.7 92.5h0M587.0 77.6h0M588.1 93.5h0M589.0 108.4h0M586.8 69.1h0M587.3 104.0h0M591.9 101.7h0M592.4 101.0h0M589.6 107.9h0M591.9 93.7h0M588.8 86.4h0M592.2 88.9h0M589.6 99.4h0M586.9 99.6h0M588.8 122.3h0M586.7 119.8h0M592.2 94.8h0M587.9 98.1h0M592.9 94.6h0M588.1 98.0h0M589.5 99.7h0M587.5 110.9h0M591.4 87.9h0M587.7 82.3h0M590.4 111.1h0M588.7 127.2h0M590.2 100.4h0M590.9 84.6h0M591.0 97.4h0M589.2 92.0h0M592.6 72.9h0M587.2 119.5h0M591.6 113.2h0M586.5 119.1h0M586.3 101.8h0M589.4 111.4h0M586.3 114.2h0M588.3 111.3h0M589.6 108.4h0M588.9 106.9h0M592.2 89.5h0M586.3 101.9h0M593.5 112.6h0M587.9 103.2h0M593.4 90.4h0M590.3 119.9h0M587.2 99.8h0M591.2 108.6h0M591.3 96.3h0M589.3 98.0h0M586.4 125.7h0M593.2 89.5h0M586.9 85.0h0M587.7 92.7h0M587.9 107.5h0M592.9 88.2h0M589.4 89.8h0M588.4 81.9h0M591.7 99.4h0M589.4 112.6h0M592.7 121.9h0M587.4 115.4h0M591.4 110.5h0M590.5 97.5h0M592.3 88.6h0M590.6 113.9h0M588.2 116.3h0M586.9 117.9h0M593.4 107.3h0M587.0 96.8h0M591.0 113.4h0M586.5 100.7h0M590.8 122.6h0M586.9 98.6h0M588.2 92.6h0M590.5 98.9h0M593.9 107.7h0M589.7 105.5h0M593.0 100.4h0M592.5 69.6h0M592.0 100.5h0M594.0 97.4h0M592.4 75.9h0M590.8 113.5h0M588.1 103.9h0M588.1 92.2h0M590.2 95.0h0M592.0 104.3h0M594.2 94.5h0M588.4 91.4h0M590.3 96.4h0M589.9 81.3h0M586.5 107.0h0M590.6 102.7h0M587.1 109.1h0M586.9 102.2h0M589.9 116.2h0M590.3 107.4h0M589.4 100.7h0M586.4 118.9h0M594.1 99.8h0M589.1 110.3h0M592.2 108.6h0M592.7 101.9h0M587.9 119.0h0M589.5 106.6h0M594.0 105.9h0M590.9 103.9h0M591.4 77.6h0M592.9 98.8h0M586.6 108.0h0M590.6 78.7h0M586.8 99.2h0M589.3 93.7h0M588.6 97.3h0M589.3 83.8h0M593.5 110.6h0M588.5 113.2h0M594.1 102.1h0M588.0 120.5h0M586.9 91.6h0M592.6 104.8h0M592.6 94.9h0M593.4 120.3h0M592.8 107.1h0M593.4 102.7h0M588.4 102.4h0M590.3 117.6h0M587.6 128.9h0M590.9 87.3h0M587.5 88.0h0M590.0 102.3h0M588.4 121.2h0M592.1 83.5h0M591.2 101.3h0M593.9 88.2h0M586.7 98.8h0M587.6 87.5h0M587.4 112.3h0M591.0 101.2h0M590.1 103.1h0M592.0 118.4h0M588.8 100.5h0M593.8 89.7h0M594.2 83.4h0M589.4 125.7h0M588.4 103.5h0M593.5 93.8h0M590.3 118.5h0M593.4 76.7h0M587.1 103.4h0M590.4 103.2h0M587.8 92.0h0M594.2 110.4h0M587.1 98.3h0M589.7 93.5h0M588.1 83.1h0M588.1 87.1h0M587.0 129.3h0M589.4 124.7h0M589.1 75.6h0M586.6 94.8h0M590.6 101.1h0M590.9 122.2h0M588.9 103.6h0M591.8 89.9h0M587.1 120.0h0M588.4 128.4h0M594.0 97.5h0M593.2 76.4h0M592.6 119.7h0M590.1 93.0h0M587.2 98.6h0M587.3 113.6h0M591.3 98.3h0M586.4 88.4h0M588.4 75.4h0M593.2 111.1h0M592.6 120.8h0M590.8 85.7h0M586.3 98.4h0M591.2 98.4h0M590.4 92.7h0M588.1 120.6h0M586.9 96.9h0M588.3 121.3h0M590.7 91.6h0M594.0 107.1h0M588.2 99.2h0M593.1 99.7h0M589.8 106.6h0M594.2 99.3h0M587.7 97.4h0M588.9 99.2h0M592.0 102.6h0M588.8 101.4h0M592.9 98.6h0M591.3 102.8h0M588.3 110.0h0M590.6 101.3h0M592.4 113.2h0M589.1 101.6h0M593.0 111.6h0M593.8 85.3h0M586.9 111.9h0M586.5 97.6h0M591.7 88.5h0M589.8 107.9h0M587.6 95.9h0M592.6 106.7h0M591.0 96.0h0M588.0 121.6h0M586.6 111.5h0M590.9 97.4h0M590.7 83.2h0M590.1 83.8h0M588.6 101.1h0M593.8 102.9h0M586.3 102.1h0M587.9 107.2h0M590.4 97.9h0M593.7 102.5h0M587.0 93.0h0M591.9 133.5h0M591.5 98.7h0M586.6 101.6h0M593.0 103.4h0M586.7 98.6h0M593.5 119.7h0M587.6 100.3h0M593.7 95.1h0M591.5 87.9h0M587.0 91.1h0M592.8 103.0h0M587.5 107.7h0M591.9 87.9h0M590.8 126.5h0M591.2 79.3h0M587.1 87.2h0M587.8 99.3h0M587.5 108.1h0M586.7 102.9h0M591.5 96.8h0M592.4 85.0h0M593.3 124.8h0M593.8 100.3h0M587.0 101.9h0M587.7 95.2h0M590.6 71.4h0M590.2 85.2h0M591.6 108.3h0M590.0 95.0h0M589.7 110.6h0M588.1 94.8h0M590.2 117.1h0M586.8 96.8h0M594.1 110.8h0M592.5 111.0h0M587.0 109.2h0M593.3 102.1h0M586.7 92.4h0M591.3 95.2h0M591.6 102.3h0M587.8 101.0h0M587.3 95.5h0M593.1 109.0h0M590.4 99.6h0M590.2 95.0h0M590.7 106.0h0M589.1 136.5h0M594.3 131.1h0M591.5 84.8h0M593.1 117.1h0M592.7 110.2h0M591.1 97.0h0M588.4 93.8h0M590.6 89.7h0M593.0 93.2h0M589.6 111.6h0M586.9 106.9h0M591.8 87.2h0M590.7 102.0h0M586.9 87.0h0M591.8 107.0h0M590.3 100.6h0M588.1 111.4h0M589.0 96.4h0M593.5 81.7h0M588.5 76.0h0M587.1 101.2h0M586.9 107.0h0M594.0 101.6h0M589.2 93.0h0M593.8 110.5h0M593.1 128.3h0M586.9 88.5h0M591.5 79.8h0M589.7 105.8h0M590.5 98.4h0M593.5 87.7h0M586.4 108.3h0M591.5 92.3h0M586.9 96.9h0M593.5 124.8h0M590.1 106.8h0M587.9 75.2h0M586.8 97.5h0M592.2 99.8h0M592.4 117.2h0M592.9 76.4h0M593.9 91.8h0M590.7 94.8h0M592.8 90.2h0M591.7 97.7h0M589.0 115.8h0M593.2 108.4h0M588.6 92.2h0M586.8 127.2h0M586.9 108.3h0M589.2 80.0h0M593.1 105.8h0M591.3 100.6h0M590.0 103.8h0M588.5 78.8h0M590.1 100.9h0M587.5 118.3h0M592.7 101.4h0M586.8 104.1h0M587.4 82.0h0M586.7 86.6h0M587.5 97.1h0M589.7 111.3h0M589.8 93.3h0M589.5 104.7h0M588.5 101.0h0M587.8 79.5h0M590.7 119.0h0M592.1 107.3h0M591.7 131.1h0M593.7 106.8h0M589.8 109.5h0M590.6 108.7h0M591.7 110.3h0M592.0 104.9h0M590.0 109.8h0M592.0 99.9h0M590.8 68.9h0M589.6 137.0h0M588.6 140.0h0M590.8 143.2h0M587.5 144.5h0M588.0 146.8h0M593.0 148.0h0M589.6 150.3h0M586.6 157.7h0M631.7 102.0h0M629.2 118.7h0M629.8 115.3h0M633.6 113.8h0M635.6 109.1h0M630.3 112.1h0M629.5 113.8h0M632.9 101.3h0M634.8 111.6h0M631.7 101.5h0M633.6 103.0h0M629.0 106.7h0M635.9 108.5h0M633.4 108.3h0M634.5 118.5h0M631.3 95.5h0M632.4 108.4h0M630.0 111.5h0M633.8 116.2h0M635.9 105.2h0M635.3 88.0h0M635.0 90.2h0M629.3 126.1h0M635.3 85.6h0M633.3 102.9h0M631.7 106.8h0M632.7 115.4h0M629.3 110.9h0M632.9 95.2h0M630.7 94.9h0M630.5 103.7h0M630.0 96.9h0M632.7 102.1h0M628.9 109.5h0M632.5 105.7h0M629.9 97.3h0M630.7 113.7h0M630.2 97.9h0M628.6 102.5h0M634.0 119.0h0M629.2 105.5h0M635.8 106.0h0M632.8 107.9h0M632.3 107.2h0M635.4 122.8h0M631.1 103.7h0M629.8 110.6h0M635.0 91.2h0M633.1 108.2h0M629.9 104.3h0M634.2 124.3h0M632.8 114.6h0M629.6 126.7h0M633.2 102.0h0M632.5 101.8h0M632.2 88.7h0M628.6 95.8h0M632.1 96.7h0M631.5 112.6h0M632.9 119.5h0M633.9 112.6h0M633.8 114.2h0M634.0 102.8h0M630.7 89.6h0M631.5 101.3h0M634.9 94.0h0M633.1 99.1h0M635.6 111.3h0M635.9 87.0h0M634.9 109.2h0M635.0 101.4h0M631.9 97.9h0M634.7 107.8h0M632.6 102.0h0M628.6 95.0h0M629.1 106.2h0M629.0 96.4h0M630.1 94.6h0M634.3 115.9h0M631.6 101.4h0M632.7 103.3h0M632.4 89.8h0M632.0 104.5h0M633.8 107.4h0M633.8 117.1h0M634.4 91.7h0M631.1 104.5h0M629.0 117.9h0M635.3 104.6h0M629.8 95.4h0M634.8 99.5h0M635.2 105.9h0M631.0 113.7h0M634.1 105.1h0M630.7 106.6h0M631.4 95.4h0M630.1 107.2h0M633.9 105.8h0M633.6 108.6h0M628.4 105.6h0M630.6 88.1h0M636.0 104.4h0M628.8 113.0h0M629.5 113.0h0M632.4 96.0h0M630.5 123.0h0M629.7 105.2h0M635.5 110.0h0M630.2 106.7h0M629.2 103.3h0M633.5 105.0h0M632.7 118.5h0M634.3 109.9h0M635.6 102.9h0M629.8 103.1h0M633.9 113.7h0M628.8 97.6h0M630.6 107.3h0M635.3 106.1h0M634.3 104.1h0M630.5 99.1h0M631.3 102.8h0M632.5 106.0h0M629.6 101.7h0M629.6 96.6h0M635.1 109.8h0M631.2 83.0h0M628.6 89.4h0M629.9 89.0h0M634.4 124.1h0M634.3 114.7h0M631.2 116.4h0M632.1 118.8h0M634.2 109.0h0M636.0 105.6h0M629.7 96.4h0M635.5 92.5h0M632.5 104.0h0M630.9 114.3h0M629.9 112.5h0M630.9 102.9h0M632.9 99.0h0M629.0 97.0h0M632.4 96.2h0M630.2 102.5h0M631.5 101.0h0M633.0 100.3h0M630.7 115.6h0M628.4 99.4h0M632.7 102.5h0M630.9 100.5h0M632.1 105.9h0M628.9 99.5h0M630.4 105.2h0M630.4 103.5h0M630.2 113.0h0M631.2 93.9h0M634.2 94.7h0M632.7 111.0h0M633.3 91.3h0M632.5 117.0h0M633.7 105.5h0M635.6 110.5h0M628.9 102.7h0M635.4 97.3h0M634.0 110.1h0M635.4 95.7h0M635.0 119.9h0M634.7 111.6h0M632.0 101.2h0M634.7 93.5h0M632.9 88.6h0M633.7 99.9h0M632.3 107.7h0M630.0 105.2h0M635.1 111.3h0M633.9 96.3h0M632.4 101.1h0M633.6 103.8h0M636.1 106.7h0M632.0 113.0h0M630.3 119.3h0M628.6 97.1h0M634.7 98.0h0M630.4 95.3h0M631.3 91.4h0M635.9 106.5h0M633.7 104.4h0M628.3 117.2h0M629.1 111.2h0M630.3 97.1h0M633.7 88.7h0M634.0 113.5h0M632.5 109.7h0M635.0 119.5h0M632.9 98.4h0M631.0 101.1h0M630.9 116.2h0M632.8 99.8h0M630.2 115.9h0M628.4 106.0h0M631.9 122.6h0M635.4 115.9h0M634.3 116.2h0M630.8 98.1h0M636.2 104.5h0M631.4 102.8h0M630.4 85.6h0M630.8 89.0h0M630.8 107.2h0M635.4 102.0h0M629.8 101.1h0M632.4 100.3h0M629.2 96.1h0M634.6 103.3h0M633.7 98.7h0M632.1 120.6h0M633.2 111.0h0M631.9 107.8h0M633.0 104.6h0M630.6 94.2h0M629.8 110.9h0M635.1 117.0h0M629.3 92.3h0M635.5 108.6h0M636.1 95.5h0M628.8 110.1h0M632.3 111.6h0M632.1 111.5h0M629.5 101.3h0M630.9 116.5h0M629.3 118.4h0M634.7 117.6h0M628.6 94.8h0M635.0 97.8h0M630.7 102.1h0M629.0 97.3h0M635.9 122.4h0M635.6 112.5h0M628.7 99.4h0M633.5 118.1h0M633.6 115.4h0M630.2 101.5h0M630.0 105.9h0M633.3 95.1h0M633.3 101.1h0M635.4 120.8h0M632.4 98.6h0M632.2 103.4h0M632.6 99.4h0M632.4 110.8h0M628.3 112.7h0M635.3 105.0h0M630.0 100.3h0M633.0 105.2h0M632.0 103.7h0M633.8 105.2h0M632.4 94.7h0M633.7 98.5h0M630.4 116.6h0M631.1 109.8h0M630.7 105.6h0M631.3 100.0h0M635.7 100.9h0M633.3 114.8h0M631.3 88.6h0M634.7 94.8h0M629.5 109.6h0M631.6 97.7h0M632.0 108.9h0M635.5 100.1h0M634.4 92.6h0M631.3 114.1h0M631.0 113.2h0M632.1 114.1h0M633.5 116.0h0M630.3 107.4h0M630.9 101.2h0M635.0 126.2h0M635.3 99.4h0M630.4 110.3h0M629.5 100.9h0M633.5 87.4h0M628.7 104.4h0M631.7 110.6h0M629.5 84.4h0M628.9 103.4h0M634.3 86.6h0M634.3 97.5h0M630.2 114.0h0M632.7 123.4h0M629.8 119.1h0M635.7 114.2h0M630.6 98.3h0M629.6 86.7h0M631.4 115.6h0M629.1 97.8h0M632.7 98.3h0M631.0 98.0h0M629.1 123.0h0M632.4 100.2h0M629.9 99.1h0M630.0 110.7h0M633.9 96.1h0M634.1 115.0h0M632.0 123.5h0M634.4 111.4h0M633.8 100.4h0M628.6 113.3h0M633.9 102.3h0M635.5 96.6h0M632.5 108.6h0M635.7 102.1h0M632.4 102.1h0M632.2 99.0h0M632.7 124.4h0M631.0 107.4h0M630.1 107.8h0M634.3 109.9h0M632.0 94.4h0M629.3 96.3h0M634.3 105.1h0M631.4 98.6h0M636.0 114.4h0M633.5 103.0h0M629.2 109.0h0M631.5 103.9h0M633.6 94.2h0M632.9 99.3h0M629.4 99.4h0M633.1 103.7h0M629.0 113.6h0M634.1 100.7h0M630.3 101.7h0M634.4 105.7h0M635.6 102.3h0M634.5 118.5h0M632.8 82.1h0M631.6 126.8h0M629.3 76.0h0M635.6 79.0h0M634.2 129.6h0M629.5 134.2h0M633.3 147.2h0" stroke="#0a0506" stroke-width="1.5" stroke-linecap="round" fill="none"/>
<path d="M507.4 218.9h0M509.1 218.9h0" stroke="#333" stroke-width="0.95" stroke-linecap="round" fill="none"/>
<g stroke="#2b2728" fill="none">
<path d="M43.2 10.9V224.05H685" stroke-width="1.6" stroke-linejoin="round"/>
<path d="M39.1 218.6H42.6M39.1 186.5H42.6M39.1 154.1H42.6M39.1 120.8H42.6M39.1 88.5H42.6M39.1 57.0H42.6M39.1 23.5H42.6M109.1 224.5V227.4M235.9 224.5V227.4M361.8 224.5V227.4M487.7 224.5V227.4M612.3 224.5V227.4" stroke-width="1.2"/>
</g>
<text x="36" y="223.1" text-anchor="end" font-size="10">0</text>
<text x="36" y="190.8" text-anchor="end" font-size="10">1</text>
<text x="36" y="158.3" text-anchor="end" font-size="10">2</text>
<text x="36" y="125.3" text-anchor="end" font-size="10">3</text>
<text x="36" y="92.9" text-anchor="end" font-size="10">4</text>
<text x="36" y="61.1" text-anchor="end" font-size="10">5</text>
<text x="36" y="29.2" text-anchor="end" font-size="10">6</text>
<text x="109.2" y="243.8" text-anchor="middle" font-size="10.1">BRCA</text>
<text x="109.2" y="255.9" text-anchor="middle" font-size="10.1">T=1085, N=291</text>
<text x="237.4" y="244.0" text-anchor="middle" font-size="10.1">LUAD</text>
<text x="237.4" y="255.8" text-anchor="middle" font-size="10.1">T=483, N=347</text>
<text x="364.2" y="244.0" text-anchor="middle" font-size="10.1">LIHC</text>
<text x="364.2" y="256.2" text-anchor="middle" font-size="10.1">T=369, N=160</text>
<text x="487.7" y="244.3" text-anchor="middle" font-size="10.1">STAD</text>
<text x="487.7" y="256.5" text-anchor="middle" font-size="10.1">T=408, N=211</text>
<text x="612.5" y="244.7" text-anchor="middle" font-size="10.1">THCA</text>
<text x="612.5" y="256.7" text-anchor="middle" font-size="10.1">T=512, N=337</text>
<line x1="89.8" y1="23.3" x2="129.0" y2="23.3" stroke="#1f1b1c" stroke-width="1.4"/>
<text x="109.4" y="19.6" text-anchor="middle" font-size="9.8">ns</text>
<line x1="214.3" y1="11.4" x2="253.5" y2="11.4" stroke="#1f1b1c" stroke-width="1.4"/>
<text x="233.9" y="8.1" text-anchor="middle" font-size="9.8">ns</text>
<line x1="340.1" y1="51.4" x2="379.3" y2="51.4" stroke="#1f1b1c" stroke-width="1.4"/>
<text x="359.7" y="47.9" text-anchor="middle" font-size="9.8">ns</text>
<line x1="465.8" y1="35.8" x2="505.0" y2="35.8" stroke="#1f1b1c" stroke-width="1.4"/>
<text x="485.4" y="32.5" text-anchor="middle" font-size="9.8">ns</text>
<line x1="591.5" y1="55.1" x2="630.7" y2="55.1" stroke="#1f1b1c" stroke-width="1.4"/>
<text x="611.1" y="51.8" text-anchor="middle" font-size="9.8">ns</text>
<circle cx="68.10000000000001" cy="415.40000000000003" r="60.300000000000004" fill="#463e36" opacity="0.7" filter="url(#sh)"/>
<circle cx="67.4" cy="414.6" r="60.1" fill="url(#pg)"/>
<path d="M67.4 414.6L66.47 354.51A60.1 60.1 0 0 1 67.4 354.5Z" fill="#e97f3a" stroke="#e97f3a" stroke-width="0.12"/>
<text x="67.8" y="341.7" text-anchor="middle" font-size="10.1">BRCA</text>
<text class="s" x="66.7" y="351.9" text-anchor="middle" font-size="6" style="fill:#555">2</text>
<text class="s" x="72.1" y="465.8" text-anchor="middle" font-size="7" style="fill:#2f4a6b">814</text>
<circle cx="200.0" cy="415.5" r="60.400000000000006" fill="#463e36" opacity="0.7" filter="url(#sh)"/>
<circle cx="199.3" cy="414.7" r="60.2" fill="url(#pg)"/>
<path d="M199.3 414.7L197.66 354.52A60.2 60.2 0 0 1 199.3 354.5Z" fill="#e97f3a" stroke="#e97f3a" stroke-width="0.12"/>
<text x="199.1" y="341.7" text-anchor="middle" font-size="10.1">LUAD</text>
<text class="s" x="198.2" y="351.9" text-anchor="middle" font-size="6" style="fill:#555">1</text>
<text class="s" x="204.8" y="465.9" text-anchor="middle" font-size="7" style="fill:#2f4a6b">229</text>
<circle cx="331.7" cy="415.3" r="60.400000000000006" fill="#463e36" opacity="0.7" filter="url(#sh)"/>
<circle cx="331.0" cy="414.5" r="60.2" fill="url(#pg)"/>
<path d="M331.0 414.5L326.87 354.44A60.2 60.2 0 0 1 331.0 354.3Z" fill="#e97f3a" stroke="#e97f3a" stroke-width="0.12"/>
<text x="327.2" y="341.7" text-anchor="middle" font-size="10.1">LIHC</text>
<text class="s" x="328.5" y="363.8" text-anchor="middle" font-size="6" style="fill:#555">4</text>
<text class="s" x="336.8" y="465.9" text-anchor="middle" font-size="7" style="fill:#2f4a6b">362</text>
<circle cx="465.0" cy="414.40000000000003" r="60.400000000000006" fill="#463e36" opacity="0.7" filter="url(#sh)"/>
<circle cx="464.3" cy="413.6" r="60.2" fill="url(#pg)"/>
<path d="M464.3 413.6L459.16 353.62A60.2 60.2 0 0 1 464.3 353.40000000000003Z" fill="#e97f3a" stroke="#e97f3a" stroke-width="0.12"/>
<text x="464.0" y="341.7" text-anchor="middle" font-size="10.1">STAD</text>
<text class="s" x="462.4" y="362.9" text-anchor="middle" font-size="6" style="fill:#555">6</text>
<text class="s" x="471.0" y="465.0" text-anchor="middle" font-size="7" style="fill:#2f4a6b">435</text>
<circle cx="598.4000000000001" cy="415.3" r="60.5" fill="#463e36" opacity="0.7" filter="url(#sh)"/>
<circle cx="597.7" cy="414.5" r="60.3" fill="url(#pg)"/>
<path d="M597.7 414.5L596.75 354.21A60.3 60.3 0 0 1 597.7 354.2Z" fill="#e97f3a" stroke="#e97f3a" stroke-width="0.12"/>
<text x="598.0" y="341.7" text-anchor="middle" font-size="10.1">THCA</text>
<text class="s" x="597.1" y="351.9" text-anchor="middle" font-size="6" style="fill:#555">1</text>
<text class="s" x="602.7" y="465.9" text-anchor="middle" font-size="7" style="fill:#2f4a6b">398</text>
<rect x="579" y="507.6" width="13.2" height="13.2" fill="#e87a3a"/>
<rect x="579" y="526.6" width="13.2" height="13.2" fill="#4a8bc9"/>
<text x="595.6" y="518.5" font-size="10.15">NF2 mutation</text>
<text x="595.6" y="537.5" font-size="10.15">No NF2 mutation</text>
</svg></body></html>
